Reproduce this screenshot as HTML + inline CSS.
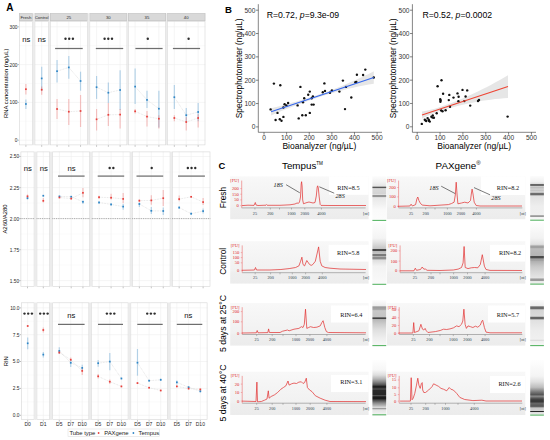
<!DOCTYPE html>
<html><head><meta charset="utf-8"><style>
html,body{margin:0;padding:0;background:#fff;}
body{width:550px;height:440px;overflow:hidden;font-family:"Liberation Sans", sans-serif;}
svg{display:block;}
</style></head><body>
<svg width="550" height="440" viewBox="0 0 550 440">
<rect x="32.8" y="21" width="1.8" height="124.2" fill="#ececec" />
<rect x="48.8" y="21" width="1.2" height="124.2" fill="#ececec" />
<rect x="87.6" y="21" width="1.9" height="124.2" fill="#ececec" />
<rect x="127.2" y="21" width="0.8" height="124.2" fill="#ececec" />
<rect x="166" y="21" width="1.2" height="124.2" fill="#ececec" />
<rect x="19" y="21" width="13.8" height="124.2" fill="#ffffff" />
<line x1="19" y1="121.3" x2="32.8" y2="121.3" stroke="#f6f6f6" stroke-width="0.5" />
<line x1="19" y1="83.5" x2="32.8" y2="83.5" stroke="#f6f6f6" stroke-width="0.5" />
<line x1="19" y1="45.7" x2="32.8" y2="45.7" stroke="#f6f6f6" stroke-width="0.5" />
<line x1="19" y1="140.2" x2="32.8" y2="140.2" stroke="#eeeeee" stroke-width="0.6" />
<line x1="19" y1="102.4" x2="32.8" y2="102.4" stroke="#eeeeee" stroke-width="0.6" />
<line x1="19" y1="64.6" x2="32.8" y2="64.6" stroke="#eeeeee" stroke-width="0.6" />
<line x1="19" y1="26.8" x2="32.8" y2="26.8" stroke="#eeeeee" stroke-width="0.6" />
<line x1="25.9" y1="21" x2="25.9" y2="145.2" stroke="#efefef" stroke-width="0.6" />
<rect x="19.3" y="21.3" width="13.2" height="123.6" fill="none" stroke="#d6d6d6" stroke-width="0.6"/>
<line x1="25.9" y1="145.2" x2="25.9" y2="146.8" stroke="#888" stroke-width="0.5" />
<rect x="34.6" y="21" width="14.2" height="124.2" fill="#ffffff" />
<line x1="34.6" y1="121.3" x2="48.8" y2="121.3" stroke="#f6f6f6" stroke-width="0.5" />
<line x1="34.6" y1="83.5" x2="48.8" y2="83.5" stroke="#f6f6f6" stroke-width="0.5" />
<line x1="34.6" y1="45.7" x2="48.8" y2="45.7" stroke="#f6f6f6" stroke-width="0.5" />
<line x1="34.6" y1="140.2" x2="48.8" y2="140.2" stroke="#eeeeee" stroke-width="0.6" />
<line x1="34.6" y1="102.4" x2="48.8" y2="102.4" stroke="#eeeeee" stroke-width="0.6" />
<line x1="34.6" y1="64.6" x2="48.8" y2="64.6" stroke="#eeeeee" stroke-width="0.6" />
<line x1="34.6" y1="26.8" x2="48.8" y2="26.8" stroke="#eeeeee" stroke-width="0.6" />
<line x1="41.7" y1="21" x2="41.7" y2="145.2" stroke="#efefef" stroke-width="0.6" />
<rect x="34.9" y="21.3" width="13.6" height="123.6" fill="none" stroke="#d6d6d6" stroke-width="0.6"/>
<line x1="41.7" y1="145.2" x2="41.7" y2="146.8" stroke="#888" stroke-width="0.5" />
<rect x="50" y="21" width="37.6" height="124.2" fill="#ffffff" />
<line x1="50" y1="121.3" x2="87.6" y2="121.3" stroke="#f6f6f6" stroke-width="0.5" />
<line x1="50" y1="83.5" x2="87.6" y2="83.5" stroke="#f6f6f6" stroke-width="0.5" />
<line x1="50" y1="45.7" x2="87.6" y2="45.7" stroke="#f6f6f6" stroke-width="0.5" />
<line x1="50" y1="140.2" x2="87.6" y2="140.2" stroke="#eeeeee" stroke-width="0.6" />
<line x1="50" y1="102.4" x2="87.6" y2="102.4" stroke="#eeeeee" stroke-width="0.6" />
<line x1="50" y1="64.6" x2="87.6" y2="64.6" stroke="#eeeeee" stroke-width="0.6" />
<line x1="50" y1="26.8" x2="87.6" y2="26.8" stroke="#eeeeee" stroke-width="0.6" />
<line x1="57.05" y1="21" x2="57.05" y2="145.2" stroke="#efefef" stroke-width="0.6" />
<line x1="68.8" y1="21" x2="68.8" y2="145.2" stroke="#efefef" stroke-width="0.6" />
<line x1="80.55" y1="21" x2="80.55" y2="145.2" stroke="#efefef" stroke-width="0.6" />
<rect x="50.3" y="21.3" width="37" height="123.6" fill="none" stroke="#d6d6d6" stroke-width="0.6"/>
<line x1="57.05" y1="145.2" x2="57.05" y2="146.8" stroke="#888" stroke-width="0.5" />
<line x1="68.8" y1="145.2" x2="68.8" y2="146.8" stroke="#888" stroke-width="0.5" />
<line x1="80.55" y1="145.2" x2="80.55" y2="146.8" stroke="#888" stroke-width="0.5" />
<rect x="89.5" y="21" width="37.7" height="124.2" fill="#ffffff" />
<line x1="89.5" y1="121.3" x2="127.2" y2="121.3" stroke="#f6f6f6" stroke-width="0.5" />
<line x1="89.5" y1="83.5" x2="127.2" y2="83.5" stroke="#f6f6f6" stroke-width="0.5" />
<line x1="89.5" y1="45.7" x2="127.2" y2="45.7" stroke="#f6f6f6" stroke-width="0.5" />
<line x1="89.5" y1="140.2" x2="127.2" y2="140.2" stroke="#eeeeee" stroke-width="0.6" />
<line x1="89.5" y1="102.4" x2="127.2" y2="102.4" stroke="#eeeeee" stroke-width="0.6" />
<line x1="89.5" y1="64.6" x2="127.2" y2="64.6" stroke="#eeeeee" stroke-width="0.6" />
<line x1="89.5" y1="26.8" x2="127.2" y2="26.8" stroke="#eeeeee" stroke-width="0.6" />
<line x1="96.57" y1="21" x2="96.57" y2="145.2" stroke="#efefef" stroke-width="0.6" />
<line x1="108.35" y1="21" x2="108.35" y2="145.2" stroke="#efefef" stroke-width="0.6" />
<line x1="120.13" y1="21" x2="120.13" y2="145.2" stroke="#efefef" stroke-width="0.6" />
<rect x="89.8" y="21.3" width="37.1" height="123.6" fill="none" stroke="#d6d6d6" stroke-width="0.6"/>
<line x1="96.57" y1="145.2" x2="96.57" y2="146.8" stroke="#888" stroke-width="0.5" />
<line x1="108.35" y1="145.2" x2="108.35" y2="146.8" stroke="#888" stroke-width="0.5" />
<line x1="120.13" y1="145.2" x2="120.13" y2="146.8" stroke="#888" stroke-width="0.5" />
<rect x="128" y="21" width="38" height="124.2" fill="#ffffff" />
<line x1="128" y1="121.3" x2="166" y2="121.3" stroke="#f6f6f6" stroke-width="0.5" />
<line x1="128" y1="83.5" x2="166" y2="83.5" stroke="#f6f6f6" stroke-width="0.5" />
<line x1="128" y1="45.7" x2="166" y2="45.7" stroke="#f6f6f6" stroke-width="0.5" />
<line x1="128" y1="140.2" x2="166" y2="140.2" stroke="#eeeeee" stroke-width="0.6" />
<line x1="128" y1="102.4" x2="166" y2="102.4" stroke="#eeeeee" stroke-width="0.6" />
<line x1="128" y1="64.6" x2="166" y2="64.6" stroke="#eeeeee" stroke-width="0.6" />
<line x1="128" y1="26.8" x2="166" y2="26.8" stroke="#eeeeee" stroke-width="0.6" />
<line x1="135.12" y1="21" x2="135.12" y2="145.2" stroke="#efefef" stroke-width="0.6" />
<line x1="147" y1="21" x2="147" y2="145.2" stroke="#efefef" stroke-width="0.6" />
<line x1="158.88" y1="21" x2="158.88" y2="145.2" stroke="#efefef" stroke-width="0.6" />
<rect x="128.3" y="21.3" width="37.4" height="123.6" fill="none" stroke="#d6d6d6" stroke-width="0.6"/>
<line x1="135.12" y1="145.2" x2="135.12" y2="146.8" stroke="#888" stroke-width="0.5" />
<line x1="147" y1="145.2" x2="147" y2="146.8" stroke="#888" stroke-width="0.5" />
<line x1="158.88" y1="145.2" x2="158.88" y2="146.8" stroke="#888" stroke-width="0.5" />
<rect x="167.2" y="21" width="38.1" height="124.2" fill="#ffffff" />
<line x1="167.2" y1="121.3" x2="205.3" y2="121.3" stroke="#f6f6f6" stroke-width="0.5" />
<line x1="167.2" y1="83.5" x2="205.3" y2="83.5" stroke="#f6f6f6" stroke-width="0.5" />
<line x1="167.2" y1="45.7" x2="205.3" y2="45.7" stroke="#f6f6f6" stroke-width="0.5" />
<line x1="167.2" y1="140.2" x2="205.3" y2="140.2" stroke="#eeeeee" stroke-width="0.6" />
<line x1="167.2" y1="102.4" x2="205.3" y2="102.4" stroke="#eeeeee" stroke-width="0.6" />
<line x1="167.2" y1="64.6" x2="205.3" y2="64.6" stroke="#eeeeee" stroke-width="0.6" />
<line x1="167.2" y1="26.8" x2="205.3" y2="26.8" stroke="#eeeeee" stroke-width="0.6" />
<line x1="174.34" y1="21" x2="174.34" y2="145.2" stroke="#efefef" stroke-width="0.6" />
<line x1="186.25" y1="21" x2="186.25" y2="145.2" stroke="#efefef" stroke-width="0.6" />
<line x1="198.16" y1="21" x2="198.16" y2="145.2" stroke="#efefef" stroke-width="0.6" />
<rect x="167.5" y="21.3" width="37.5" height="123.6" fill="none" stroke="#d6d6d6" stroke-width="0.6"/>
<line x1="174.34" y1="145.2" x2="174.34" y2="146.8" stroke="#888" stroke-width="0.5" />
<line x1="186.25" y1="145.2" x2="186.25" y2="146.8" stroke="#888" stroke-width="0.5" />
<line x1="198.16" y1="145.2" x2="198.16" y2="146.8" stroke="#888" stroke-width="0.5" />
<rect x="19" y="13.3" width="13.8" height="7.7" fill="#d9d9d9" />
<rect x="19.3" y="13.6" width="13.2" height="7.1" fill="none" stroke="#c4c4c4" stroke-width="0.6"/>
<text x="25.9" y="18.65" font-size="4.3" text-anchor="middle" fill="#2a2a2a" font-weight="normal" font-style="normal" font-family='"Liberation Sans", sans-serif' >Fresh</text>
<rect x="34.6" y="13.3" width="14.2" height="7.7" fill="#d9d9d9" />
<rect x="34.9" y="13.6" width="13.6" height="7.1" fill="none" stroke="#c4c4c4" stroke-width="0.6"/>
<text x="41.7" y="18.65" font-size="4.3" text-anchor="middle" fill="#2a2a2a" font-weight="normal" font-style="normal" font-family='"Liberation Sans", sans-serif' >Control</text>
<rect x="50" y="13.3" width="37.6" height="7.7" fill="#d9d9d9" />
<rect x="50.3" y="13.6" width="37" height="7.1" fill="none" stroke="#c4c4c4" stroke-width="0.6"/>
<text x="68.8" y="18.65" font-size="4.3" text-anchor="middle" fill="#2a2a2a" font-weight="normal" font-style="normal" font-family='"Liberation Sans", sans-serif' >25</text>
<rect x="89.5" y="13.3" width="37.7" height="7.7" fill="#d9d9d9" />
<rect x="89.8" y="13.6" width="37.1" height="7.1" fill="none" stroke="#c4c4c4" stroke-width="0.6"/>
<text x="108.35" y="18.65" font-size="4.3" text-anchor="middle" fill="#2a2a2a" font-weight="normal" font-style="normal" font-family='"Liberation Sans", sans-serif' >30</text>
<rect x="128" y="13.3" width="38" height="7.7" fill="#d9d9d9" />
<rect x="128.3" y="13.6" width="37.4" height="7.1" fill="none" stroke="#c4c4c4" stroke-width="0.6"/>
<text x="147" y="18.65" font-size="4.3" text-anchor="middle" fill="#2a2a2a" font-weight="normal" font-style="normal" font-family='"Liberation Sans", sans-serif' >35</text>
<rect x="167.2" y="13.3" width="38.1" height="7.7" fill="#d9d9d9" />
<rect x="167.5" y="13.6" width="37.5" height="7.1" fill="none" stroke="#c4c4c4" stroke-width="0.6"/>
<text x="186.25" y="18.65" font-size="4.3" text-anchor="middle" fill="#2a2a2a" font-weight="normal" font-style="normal" font-family='"Liberation Sans", sans-serif' >40</text>
<rect x="32.8" y="13.3" width="1.8" height="7.7" fill="#ececec" />
<rect x="48.8" y="13.3" width="1.2" height="7.7" fill="#ececec" />
<rect x="87.6" y="13.3" width="1.9" height="7.7" fill="#ececec" />
<rect x="127.2" y="13.3" width="0.8" height="7.7" fill="#ececec" />
<rect x="166" y="13.3" width="1.2" height="7.7" fill="#ececec" />
<line x1="17.7" y1="140.2" x2="19" y2="140.2" stroke="#777" stroke-width="0.5" />
<text x="17.5" y="142.1" font-size="4.8" text-anchor="end" fill="#262626" font-weight="normal" font-style="normal" font-family='"Liberation Sans", sans-serif' >0</text>
<line x1="17.7" y1="102.4" x2="19" y2="102.4" stroke="#777" stroke-width="0.5" />
<text x="17.5" y="104.3" font-size="4.8" text-anchor="end" fill="#262626" font-weight="normal" font-style="normal" font-family='"Liberation Sans", sans-serif' >100</text>
<line x1="17.7" y1="64.6" x2="19" y2="64.6" stroke="#777" stroke-width="0.5" />
<text x="17.5" y="66.5" font-size="4.8" text-anchor="end" fill="#262626" font-weight="normal" font-style="normal" font-family='"Liberation Sans", sans-serif' >200</text>
<line x1="17.7" y1="26.8" x2="19" y2="26.8" stroke="#777" stroke-width="0.5" />
<text x="17.5" y="28.7" font-size="4.8" text-anchor="end" fill="#262626" font-weight="normal" font-style="normal" font-family='"Liberation Sans", sans-serif' >300</text>
<line x1="25.9" y1="99.5" x2="25.9" y2="109" stroke="#2f86c6" stroke-opacity="0.34" stroke-width="1.2"/>
<line x1="25.9" y1="84.1" x2="25.9" y2="94.4" stroke="#e8403c" stroke-opacity="0.3" stroke-width="1.2"/>
<rect x="25.05" y="103.15" width="1.7" height="1.7" fill="#2f86c6" />
<rect x="25.05" y="88.35" width="1.7" height="1.7" fill="#e8403c" />
<text x="26.3" y="42" font-size="7.7" text-anchor="middle" fill="#111" font-weight="normal" font-style="normal" font-family='"Liberation Sans", sans-serif' >ns</text>
<line x1="41.7" y1="66.7" x2="41.7" y2="90.7" stroke="#2f86c6" stroke-opacity="0.34" stroke-width="1.2"/>
<line x1="41.7" y1="86.6" x2="41.7" y2="94.8" stroke="#e8403c" stroke-opacity="0.3" stroke-width="1.2"/>
<rect x="40.85" y="77.55" width="1.7" height="1.7" fill="#2f86c6" />
<rect x="40.85" y="88.85" width="1.7" height="1.7" fill="#e8403c" />
<text x="41.7" y="42" font-size="7.7" text-anchor="middle" fill="#111" font-weight="normal" font-style="normal" font-family='"Liberation Sans", sans-serif' >ns</text>
<polyline points="57.05,71.2 68.8,67.4 80.55,81" fill="none" stroke="#c8c8c8" stroke-width="0.5" stroke-dasharray="0.8 0.8"/>
<polyline points="57.05,109 68.8,111.7 80.55,111" fill="none" stroke="#c8c8c8" stroke-width="0.5" stroke-dasharray="0.8 0.8"/>
<line x1="57.05" y1="60" x2="57.05" y2="82.5" stroke="#2f86c6" stroke-opacity="0.34" stroke-width="1.2"/>
<line x1="57.05" y1="98.9" x2="57.05" y2="119" stroke="#e8403c" stroke-opacity="0.3" stroke-width="1.2"/>
<line x1="68.8" y1="56" x2="68.8" y2="78.8" stroke="#2f86c6" stroke-opacity="0.34" stroke-width="1.2"/>
<line x1="68.8" y1="98.9" x2="68.8" y2="125" stroke="#e8403c" stroke-opacity="0.3" stroke-width="1.2"/>
<line x1="80.55" y1="71.7" x2="80.55" y2="90.7" stroke="#2f86c6" stroke-opacity="0.34" stroke-width="1.2"/>
<line x1="80.55" y1="95" x2="80.55" y2="127" stroke="#e8403c" stroke-opacity="0.3" stroke-width="1.2"/>
<rect x="56.2" y="70.35" width="1.7" height="1.7" fill="#2f86c6" />
<rect x="56.2" y="108.15" width="1.7" height="1.7" fill="#e8403c" />
<rect x="67.95" y="66.55" width="1.7" height="1.7" fill="#2f86c6" />
<rect x="67.95" y="110.85" width="1.7" height="1.7" fill="#e8403c" />
<rect x="79.7" y="80.15" width="1.7" height="1.7" fill="#2f86c6" />
<rect x="79.7" y="110.15" width="1.7" height="1.7" fill="#e8403c" />
<circle cx="65.5" cy="38.8" r="1.2" fill="#2e2e2e"/>
<circle cx="69.2" cy="38.8" r="1.2" fill="#2e2e2e"/>
<circle cx="72.9" cy="38.8" r="1.2" fill="#2e2e2e"/>
<line x1="55.1" y1="48.5" x2="82.7" y2="48.5" stroke="#6e6e6e" stroke-width="1.25" />
<polyline points="96.57,87.2 108.35,92.7 120.13,90" fill="none" stroke="#c8c8c8" stroke-width="0.5" stroke-dasharray="0.8 0.8"/>
<polyline points="96.57,119.3 108.35,114.8 120.13,114.6" fill="none" stroke="#c8c8c8" stroke-width="0.5" stroke-dasharray="0.8 0.8"/>
<line x1="96.57" y1="76" x2="96.57" y2="98.9" stroke="#2f86c6" stroke-opacity="0.34" stroke-width="1.2"/>
<line x1="96.57" y1="109" x2="96.57" y2="130.5" stroke="#e8403c" stroke-opacity="0.3" stroke-width="1.2"/>
<line x1="108.35" y1="82.5" x2="108.35" y2="103" stroke="#2f86c6" stroke-opacity="0.34" stroke-width="1.2"/>
<line x1="108.35" y1="103" x2="108.35" y2="126" stroke="#e8403c" stroke-opacity="0.3" stroke-width="1.2"/>
<line x1="120.13" y1="70.2" x2="120.13" y2="110" stroke="#2f86c6" stroke-opacity="0.34" stroke-width="1.2"/>
<line x1="120.13" y1="109" x2="120.13" y2="128.5" stroke="#e8403c" stroke-opacity="0.3" stroke-width="1.2"/>
<rect x="95.72" y="86.35" width="1.7" height="1.7" fill="#2f86c6" />
<rect x="95.72" y="118.45" width="1.7" height="1.7" fill="#e8403c" />
<rect x="107.5" y="91.85" width="1.7" height="1.7" fill="#2f86c6" />
<rect x="107.5" y="113.95" width="1.7" height="1.7" fill="#e8403c" />
<rect x="119.28" y="89.15" width="1.7" height="1.7" fill="#2f86c6" />
<rect x="119.28" y="113.75" width="1.7" height="1.7" fill="#e8403c" />
<circle cx="104.6" cy="38.8" r="1.2" fill="#2e2e2e"/>
<circle cx="108.3" cy="38.8" r="1.2" fill="#2e2e2e"/>
<circle cx="112" cy="38.8" r="1.2" fill="#2e2e2e"/>
<line x1="95.8" y1="48.5" x2="123.2" y2="48.5" stroke="#6e6e6e" stroke-width="1.25" />
<polyline points="135.12,86.6 147,99.9 158.88,108.7" fill="none" stroke="#c8c8c8" stroke-width="0.5" stroke-dasharray="0.8 0.8"/>
<polyline points="135.12,111.3 147,116.6 158.88,118.7" fill="none" stroke="#c8c8c8" stroke-width="0.5" stroke-dasharray="0.8 0.8"/>
<line x1="135.12" y1="68.6" x2="135.12" y2="104" stroke="#2f86c6" stroke-opacity="0.34" stroke-width="1.2"/>
<line x1="135.12" y1="109" x2="135.12" y2="113.6" stroke="#e8403c" stroke-opacity="0.3" stroke-width="1.2"/>
<line x1="147" y1="90.7" x2="147" y2="108" stroke="#2f86c6" stroke-opacity="0.34" stroke-width="1.2"/>
<line x1="147" y1="111.1" x2="147" y2="126.5" stroke="#e8403c" stroke-opacity="0.3" stroke-width="1.2"/>
<line x1="158.88" y1="90.7" x2="158.88" y2="127.5" stroke="#2f86c6" stroke-opacity="0.34" stroke-width="1.2"/>
<line x1="158.88" y1="115.2" x2="158.88" y2="128.5" stroke="#e8403c" stroke-opacity="0.3" stroke-width="1.2"/>
<rect x="134.28" y="85.75" width="1.7" height="1.7" fill="#2f86c6" />
<rect x="134.28" y="110.45" width="1.7" height="1.7" fill="#e8403c" />
<rect x="146.15" y="99.05" width="1.7" height="1.7" fill="#2f86c6" />
<rect x="146.15" y="115.75" width="1.7" height="1.7" fill="#e8403c" />
<rect x="158.03" y="107.85" width="1.7" height="1.7" fill="#2f86c6" />
<rect x="158.03" y="117.85" width="1.7" height="1.7" fill="#e8403c" />
<circle cx="147.8" cy="38.8" r="1.2" fill="#2e2e2e"/>
<line x1="135.4" y1="48.5" x2="162.6" y2="48.5" stroke="#6e6e6e" stroke-width="1.25" />
<polyline points="174.34,97.2 186.25,115.2 198.16,112" fill="none" stroke="#c8c8c8" stroke-width="0.5" stroke-dasharray="0.8 0.8"/>
<polyline points="174.34,118 186.25,122 198.16,118" fill="none" stroke="#c8c8c8" stroke-width="0.5" stroke-dasharray="0.8 0.8"/>
<line x1="174.34" y1="85" x2="174.34" y2="109" stroke="#2f86c6" stroke-opacity="0.34" stroke-width="1.2"/>
<line x1="174.34" y1="115.2" x2="174.34" y2="121.3" stroke="#e8403c" stroke-opacity="0.3" stroke-width="1.2"/>
<line x1="186.25" y1="108" x2="186.25" y2="121.3" stroke="#2f86c6" stroke-opacity="0.34" stroke-width="1.2"/>
<line x1="186.25" y1="117.3" x2="186.25" y2="130.5" stroke="#e8403c" stroke-opacity="0.3" stroke-width="1.2"/>
<line x1="198.16" y1="103" x2="198.16" y2="121.3" stroke="#2f86c6" stroke-opacity="0.34" stroke-width="1.2"/>
<line x1="198.16" y1="114.2" x2="198.16" y2="127.5" stroke="#e8403c" stroke-opacity="0.3" stroke-width="1.2"/>
<rect x="173.49" y="96.35" width="1.7" height="1.7" fill="#2f86c6" />
<rect x="173.49" y="117.15" width="1.7" height="1.7" fill="#e8403c" />
<rect x="185.4" y="114.35" width="1.7" height="1.7" fill="#2f86c6" />
<rect x="185.4" y="121.15" width="1.7" height="1.7" fill="#e8403c" />
<rect x="197.31" y="111.15" width="1.7" height="1.7" fill="#2f86c6" />
<rect x="197.31" y="117.15" width="1.7" height="1.7" fill="#e8403c" />
<circle cx="188.6" cy="38.8" r="1.2" fill="#2e2e2e"/>
<line x1="172.9" y1="48.5" x2="200.1" y2="48.5" stroke="#6e6e6e" stroke-width="1.25" />
<text x="8" y="83.2" font-size="5.9" text-anchor="middle" fill="#000" font-weight="normal" font-style="normal" font-family='"Liberation Sans", sans-serif' transform="rotate(-90 8 83.2)" >RNA concentration (ng/µL)</text>
<rect x="34.4" y="151.6" width="2.2" height="135.1" fill="#ececec" />
<rect x="50" y="151.6" width="2.4" height="135.1" fill="#ececec" />
<rect x="90" y="151.6" width="1.8" height="135.1" fill="#ececec" />
<rect x="130.4" y="151.6" width="1.8" height="135.1" fill="#ececec" />
<rect x="170.4" y="151.6" width="1.6" height="135.1" fill="#ececec" />
<rect x="20.6" y="151.6" width="13.8" height="135.1" fill="#ffffff" />
<line x1="20.6" y1="265.1" x2="34.4" y2="265.1" stroke="#f6f6f6" stroke-width="0.5" />
<line x1="20.6" y1="234.1" x2="34.4" y2="234.1" stroke="#f6f6f6" stroke-width="0.5" />
<line x1="20.6" y1="203.1" x2="34.4" y2="203.1" stroke="#f6f6f6" stroke-width="0.5" />
<line x1="20.6" y1="172.1" x2="34.4" y2="172.1" stroke="#f6f6f6" stroke-width="0.5" />
<line x1="20.6" y1="280.6" x2="34.4" y2="280.6" stroke="#eeeeee" stroke-width="0.6" />
<line x1="20.6" y1="249.7" x2="34.4" y2="249.7" stroke="#eeeeee" stroke-width="0.6" />
<line x1="20.6" y1="218.6" x2="34.4" y2="218.6" stroke="#eeeeee" stroke-width="0.6" />
<line x1="20.6" y1="187.6" x2="34.4" y2="187.6" stroke="#eeeeee" stroke-width="0.6" />
<line x1="20.6" y1="156.5" x2="34.4" y2="156.5" stroke="#eeeeee" stroke-width="0.6" />
<line x1="27.5" y1="151.6" x2="27.5" y2="286.7" stroke="#efefef" stroke-width="0.6" />
<rect x="20.9" y="151.9" width="13.2" height="134.5" fill="none" stroke="#d6d6d6" stroke-width="0.6"/>
<line x1="27.5" y1="286.7" x2="27.5" y2="288.3" stroke="#888" stroke-width="0.5" />
<rect x="36.6" y="151.6" width="13.4" height="135.1" fill="#ffffff" />
<line x1="36.6" y1="265.1" x2="50" y2="265.1" stroke="#f6f6f6" stroke-width="0.5" />
<line x1="36.6" y1="234.1" x2="50" y2="234.1" stroke="#f6f6f6" stroke-width="0.5" />
<line x1="36.6" y1="203.1" x2="50" y2="203.1" stroke="#f6f6f6" stroke-width="0.5" />
<line x1="36.6" y1="172.1" x2="50" y2="172.1" stroke="#f6f6f6" stroke-width="0.5" />
<line x1="36.6" y1="280.6" x2="50" y2="280.6" stroke="#eeeeee" stroke-width="0.6" />
<line x1="36.6" y1="249.7" x2="50" y2="249.7" stroke="#eeeeee" stroke-width="0.6" />
<line x1="36.6" y1="218.6" x2="50" y2="218.6" stroke="#eeeeee" stroke-width="0.6" />
<line x1="36.6" y1="187.6" x2="50" y2="187.6" stroke="#eeeeee" stroke-width="0.6" />
<line x1="36.6" y1="156.5" x2="50" y2="156.5" stroke="#eeeeee" stroke-width="0.6" />
<line x1="43.3" y1="151.6" x2="43.3" y2="286.7" stroke="#efefef" stroke-width="0.6" />
<rect x="36.9" y="151.9" width="12.8" height="134.5" fill="none" stroke="#d6d6d6" stroke-width="0.6"/>
<line x1="43.3" y1="286.7" x2="43.3" y2="288.3" stroke="#888" stroke-width="0.5" />
<rect x="52.4" y="151.6" width="37.6" height="135.1" fill="#ffffff" />
<line x1="52.4" y1="265.1" x2="90" y2="265.1" stroke="#f6f6f6" stroke-width="0.5" />
<line x1="52.4" y1="234.1" x2="90" y2="234.1" stroke="#f6f6f6" stroke-width="0.5" />
<line x1="52.4" y1="203.1" x2="90" y2="203.1" stroke="#f6f6f6" stroke-width="0.5" />
<line x1="52.4" y1="172.1" x2="90" y2="172.1" stroke="#f6f6f6" stroke-width="0.5" />
<line x1="52.4" y1="280.6" x2="90" y2="280.6" stroke="#eeeeee" stroke-width="0.6" />
<line x1="52.4" y1="249.7" x2="90" y2="249.7" stroke="#eeeeee" stroke-width="0.6" />
<line x1="52.4" y1="218.6" x2="90" y2="218.6" stroke="#eeeeee" stroke-width="0.6" />
<line x1="52.4" y1="187.6" x2="90" y2="187.6" stroke="#eeeeee" stroke-width="0.6" />
<line x1="52.4" y1="156.5" x2="90" y2="156.5" stroke="#eeeeee" stroke-width="0.6" />
<line x1="59.45" y1="151.6" x2="59.45" y2="286.7" stroke="#efefef" stroke-width="0.6" />
<line x1="71.2" y1="151.6" x2="71.2" y2="286.7" stroke="#efefef" stroke-width="0.6" />
<line x1="82.95" y1="151.6" x2="82.95" y2="286.7" stroke="#efefef" stroke-width="0.6" />
<rect x="52.7" y="151.9" width="37" height="134.5" fill="none" stroke="#d6d6d6" stroke-width="0.6"/>
<line x1="59.45" y1="286.7" x2="59.45" y2="288.3" stroke="#888" stroke-width="0.5" />
<line x1="71.2" y1="286.7" x2="71.2" y2="288.3" stroke="#888" stroke-width="0.5" />
<line x1="82.95" y1="286.7" x2="82.95" y2="288.3" stroke="#888" stroke-width="0.5" />
<rect x="91.8" y="151.6" width="38.6" height="135.1" fill="#ffffff" />
<line x1="91.8" y1="265.1" x2="130.4" y2="265.1" stroke="#f6f6f6" stroke-width="0.5" />
<line x1="91.8" y1="234.1" x2="130.4" y2="234.1" stroke="#f6f6f6" stroke-width="0.5" />
<line x1="91.8" y1="203.1" x2="130.4" y2="203.1" stroke="#f6f6f6" stroke-width="0.5" />
<line x1="91.8" y1="172.1" x2="130.4" y2="172.1" stroke="#f6f6f6" stroke-width="0.5" />
<line x1="91.8" y1="280.6" x2="130.4" y2="280.6" stroke="#eeeeee" stroke-width="0.6" />
<line x1="91.8" y1="249.7" x2="130.4" y2="249.7" stroke="#eeeeee" stroke-width="0.6" />
<line x1="91.8" y1="218.6" x2="130.4" y2="218.6" stroke="#eeeeee" stroke-width="0.6" />
<line x1="91.8" y1="187.6" x2="130.4" y2="187.6" stroke="#eeeeee" stroke-width="0.6" />
<line x1="91.8" y1="156.5" x2="130.4" y2="156.5" stroke="#eeeeee" stroke-width="0.6" />
<line x1="99.04" y1="151.6" x2="99.04" y2="286.7" stroke="#efefef" stroke-width="0.6" />
<line x1="111.1" y1="151.6" x2="111.1" y2="286.7" stroke="#efefef" stroke-width="0.6" />
<line x1="123.16" y1="151.6" x2="123.16" y2="286.7" stroke="#efefef" stroke-width="0.6" />
<rect x="92.1" y="151.9" width="38" height="134.5" fill="none" stroke="#d6d6d6" stroke-width="0.6"/>
<line x1="99.04" y1="286.7" x2="99.04" y2="288.3" stroke="#888" stroke-width="0.5" />
<line x1="111.1" y1="286.7" x2="111.1" y2="288.3" stroke="#888" stroke-width="0.5" />
<line x1="123.16" y1="286.7" x2="123.16" y2="288.3" stroke="#888" stroke-width="0.5" />
<rect x="132.2" y="151.6" width="38.2" height="135.1" fill="#ffffff" />
<line x1="132.2" y1="265.1" x2="170.4" y2="265.1" stroke="#f6f6f6" stroke-width="0.5" />
<line x1="132.2" y1="234.1" x2="170.4" y2="234.1" stroke="#f6f6f6" stroke-width="0.5" />
<line x1="132.2" y1="203.1" x2="170.4" y2="203.1" stroke="#f6f6f6" stroke-width="0.5" />
<line x1="132.2" y1="172.1" x2="170.4" y2="172.1" stroke="#f6f6f6" stroke-width="0.5" />
<line x1="132.2" y1="280.6" x2="170.4" y2="280.6" stroke="#eeeeee" stroke-width="0.6" />
<line x1="132.2" y1="249.7" x2="170.4" y2="249.7" stroke="#eeeeee" stroke-width="0.6" />
<line x1="132.2" y1="218.6" x2="170.4" y2="218.6" stroke="#eeeeee" stroke-width="0.6" />
<line x1="132.2" y1="187.6" x2="170.4" y2="187.6" stroke="#eeeeee" stroke-width="0.6" />
<line x1="132.2" y1="156.5" x2="170.4" y2="156.5" stroke="#eeeeee" stroke-width="0.6" />
<line x1="139.36" y1="151.6" x2="139.36" y2="286.7" stroke="#efefef" stroke-width="0.6" />
<line x1="151.3" y1="151.6" x2="151.3" y2="286.7" stroke="#efefef" stroke-width="0.6" />
<line x1="163.24" y1="151.6" x2="163.24" y2="286.7" stroke="#efefef" stroke-width="0.6" />
<rect x="132.5" y="151.9" width="37.6" height="134.5" fill="none" stroke="#d6d6d6" stroke-width="0.6"/>
<line x1="139.36" y1="286.7" x2="139.36" y2="288.3" stroke="#888" stroke-width="0.5" />
<line x1="151.3" y1="286.7" x2="151.3" y2="288.3" stroke="#888" stroke-width="0.5" />
<line x1="163.24" y1="286.7" x2="163.24" y2="288.3" stroke="#888" stroke-width="0.5" />
<rect x="172" y="151.6" width="38.3" height="135.1" fill="#ffffff" />
<line x1="172" y1="265.1" x2="210.3" y2="265.1" stroke="#f6f6f6" stroke-width="0.5" />
<line x1="172" y1="234.1" x2="210.3" y2="234.1" stroke="#f6f6f6" stroke-width="0.5" />
<line x1="172" y1="203.1" x2="210.3" y2="203.1" stroke="#f6f6f6" stroke-width="0.5" />
<line x1="172" y1="172.1" x2="210.3" y2="172.1" stroke="#f6f6f6" stroke-width="0.5" />
<line x1="172" y1="280.6" x2="210.3" y2="280.6" stroke="#eeeeee" stroke-width="0.6" />
<line x1="172" y1="249.7" x2="210.3" y2="249.7" stroke="#eeeeee" stroke-width="0.6" />
<line x1="172" y1="218.6" x2="210.3" y2="218.6" stroke="#eeeeee" stroke-width="0.6" />
<line x1="172" y1="187.6" x2="210.3" y2="187.6" stroke="#eeeeee" stroke-width="0.6" />
<line x1="172" y1="156.5" x2="210.3" y2="156.5" stroke="#eeeeee" stroke-width="0.6" />
<line x1="179.18" y1="151.6" x2="179.18" y2="286.7" stroke="#efefef" stroke-width="0.6" />
<line x1="191.15" y1="151.6" x2="191.15" y2="286.7" stroke="#efefef" stroke-width="0.6" />
<line x1="203.12" y1="151.6" x2="203.12" y2="286.7" stroke="#efefef" stroke-width="0.6" />
<rect x="172.3" y="151.9" width="37.7" height="134.5" fill="none" stroke="#d6d6d6" stroke-width="0.6"/>
<line x1="179.18" y1="286.7" x2="179.18" y2="288.3" stroke="#888" stroke-width="0.5" />
<line x1="191.15" y1="286.7" x2="191.15" y2="288.3" stroke="#888" stroke-width="0.5" />
<line x1="203.12" y1="286.7" x2="203.12" y2="288.3" stroke="#888" stroke-width="0.5" />
<line x1="20.6" y1="218.6" x2="34.4" y2="218.6" stroke="#9a9a9a" stroke-width="0.9" stroke-dasharray="0.9 0.9"/>
<line x1="36.6" y1="218.6" x2="50" y2="218.6" stroke="#9a9a9a" stroke-width="0.9" stroke-dasharray="0.9 0.9"/>
<line x1="52.4" y1="218.6" x2="90" y2="218.6" stroke="#9a9a9a" stroke-width="0.9" stroke-dasharray="0.9 0.9"/>
<line x1="91.8" y1="218.6" x2="130.4" y2="218.6" stroke="#9a9a9a" stroke-width="0.9" stroke-dasharray="0.9 0.9"/>
<line x1="132.2" y1="218.6" x2="170.4" y2="218.6" stroke="#9a9a9a" stroke-width="0.9" stroke-dasharray="0.9 0.9"/>
<line x1="172" y1="218.6" x2="210.3" y2="218.6" stroke="#9a9a9a" stroke-width="0.9" stroke-dasharray="0.9 0.9"/>
<line x1="19.3" y1="280.6" x2="20.6" y2="280.6" stroke="#777" stroke-width="0.5" />
<text x="19.1" y="282.5" font-size="4.8" text-anchor="end" fill="#262626" font-weight="normal" font-style="normal" font-family='"Liberation Sans", sans-serif' >1.50</text>
<line x1="19.3" y1="249.7" x2="20.6" y2="249.7" stroke="#777" stroke-width="0.5" />
<text x="19.1" y="251.6" font-size="4.8" text-anchor="end" fill="#262626" font-weight="normal" font-style="normal" font-family='"Liberation Sans", sans-serif' >1.75</text>
<line x1="19.3" y1="218.6" x2="20.6" y2="218.6" stroke="#777" stroke-width="0.5" />
<text x="19.1" y="220.5" font-size="4.8" text-anchor="end" fill="#262626" font-weight="normal" font-style="normal" font-family='"Liberation Sans", sans-serif' >2.00</text>
<line x1="19.3" y1="187.6" x2="20.6" y2="187.6" stroke="#777" stroke-width="0.5" />
<text x="19.1" y="189.5" font-size="4.8" text-anchor="end" fill="#262626" font-weight="normal" font-style="normal" font-family='"Liberation Sans", sans-serif' >2.25</text>
<line x1="19.3" y1="156.5" x2="20.6" y2="156.5" stroke="#777" stroke-width="0.5" />
<text x="19.1" y="158.4" font-size="4.8" text-anchor="end" fill="#262626" font-weight="normal" font-style="normal" font-family='"Liberation Sans", sans-serif' >2.50</text>
<line x1="27.5" y1="197" x2="27.5" y2="199.5" stroke="#2f86c6" stroke-opacity="0.34" stroke-width="1.2"/>
<line x1="27.5" y1="194.5" x2="27.5" y2="198.2" stroke="#e8403c" stroke-opacity="0.3" stroke-width="1.2"/>
<rect x="26.65" y="197.35" width="1.7" height="1.7" fill="#2f86c6" />
<rect x="26.65" y="195.45" width="1.7" height="1.7" fill="#e8403c" />
<text x="27.9" y="171.1" font-size="7.7" text-anchor="middle" fill="#111" font-weight="normal" font-style="normal" font-family='"Liberation Sans", sans-serif' >ns</text>
<line x1="43.3" y1="195" x2="43.3" y2="196.5" stroke="#2f86c6" stroke-opacity="0.34" stroke-width="1.2"/>
<line x1="43.3" y1="198" x2="43.3" y2="202.5" stroke="#e8403c" stroke-opacity="0.3" stroke-width="1.2"/>
<rect x="42.45" y="194.85" width="1.7" height="1.7" fill="#2f86c6" />
<rect x="42.45" y="199.95" width="1.7" height="1.7" fill="#e8403c" />
<text x="43.7" y="171.1" font-size="7.7" text-anchor="middle" fill="#111" font-weight="normal" font-style="normal" font-family='"Liberation Sans", sans-serif' >ns</text>
<polyline points="59.45,196.4 71.2,196.7 82.95,201.8" fill="none" stroke="#c8c8c8" stroke-width="0.5" stroke-dasharray="0.8 0.8"/>
<polyline points="59.45,197.5 71.2,198.6 82.95,192.8" fill="none" stroke="#c8c8c8" stroke-width="0.5" stroke-dasharray="0.8 0.8"/>
<line x1="59.45" y1="195.6" x2="59.45" y2="197.2" stroke="#2f86c6" stroke-opacity="0.34" stroke-width="1.2"/>
<line x1="59.45" y1="196.8" x2="59.45" y2="198.2" stroke="#e8403c" stroke-opacity="0.3" stroke-width="1.2"/>
<line x1="71.2" y1="196" x2="71.2" y2="197.4" stroke="#2f86c6" stroke-opacity="0.34" stroke-width="1.2"/>
<line x1="71.2" y1="197.6" x2="71.2" y2="199.6" stroke="#e8403c" stroke-opacity="0.3" stroke-width="1.2"/>
<line x1="82.95" y1="200.4" x2="82.95" y2="204" stroke="#2f86c6" stroke-opacity="0.34" stroke-width="1.2"/>
<line x1="82.95" y1="188" x2="82.95" y2="197.2" stroke="#e8403c" stroke-opacity="0.3" stroke-width="1.2"/>
<rect x="58.6" y="195.55" width="1.7" height="1.7" fill="#2f86c6" />
<rect x="58.6" y="196.65" width="1.7" height="1.7" fill="#e8403c" />
<rect x="70.35" y="195.85" width="1.7" height="1.7" fill="#2f86c6" />
<rect x="70.35" y="197.75" width="1.7" height="1.7" fill="#e8403c" />
<rect x="82.1" y="200.95" width="1.7" height="1.7" fill="#2f86c6" />
<rect x="82.1" y="191.95" width="1.7" height="1.7" fill="#e8403c" />
<text x="71.6" y="171.1" font-size="7.7" text-anchor="middle" fill="#111" font-weight="normal" font-style="normal" font-family='"Liberation Sans", sans-serif' >ns</text>
<line x1="58" y1="176.1" x2="84.6" y2="176.1" stroke="#6e6e6e" stroke-width="1.25" />
<polyline points="99.04,202.5 111.1,204.4 123.16,206.6" fill="none" stroke="#c8c8c8" stroke-width="0.5" stroke-dasharray="0.8 0.8"/>
<polyline points="99.04,197.2 111.1,197.7 123.16,198.9" fill="none" stroke="#c8c8c8" stroke-width="0.5" stroke-dasharray="0.8 0.8"/>
<line x1="99.04" y1="201.1" x2="99.04" y2="204" stroke="#2f86c6" stroke-opacity="0.34" stroke-width="1.2"/>
<line x1="99.04" y1="195.7" x2="99.04" y2="198.9" stroke="#e8403c" stroke-opacity="0.3" stroke-width="1.2"/>
<line x1="111.1" y1="203.3" x2="111.1" y2="205.9" stroke="#2f86c6" stroke-opacity="0.34" stroke-width="1.2"/>
<line x1="111.1" y1="193.8" x2="111.1" y2="199.6" stroke="#e8403c" stroke-opacity="0.3" stroke-width="1.2"/>
<line x1="123.16" y1="204" x2="123.16" y2="209.8" stroke="#2f86c6" stroke-opacity="0.34" stroke-width="1.2"/>
<line x1="123.16" y1="193" x2="123.16" y2="203.3" stroke="#e8403c" stroke-opacity="0.3" stroke-width="1.2"/>
<rect x="98.19" y="201.65" width="1.7" height="1.7" fill="#2f86c6" />
<rect x="98.19" y="196.35" width="1.7" height="1.7" fill="#e8403c" />
<rect x="110.25" y="203.55" width="1.7" height="1.7" fill="#2f86c6" />
<rect x="110.25" y="196.85" width="1.7" height="1.7" fill="#e8403c" />
<rect x="122.31" y="205.75" width="1.7" height="1.7" fill="#2f86c6" />
<rect x="122.31" y="198.05" width="1.7" height="1.7" fill="#e8403c" />
<circle cx="109.65" cy="168" r="1.2" fill="#2e2e2e"/>
<circle cx="113.35" cy="168" r="1.2" fill="#2e2e2e"/>
<line x1="97.7" y1="176.1" x2="124.2" y2="176.1" stroke="#6e6e6e" stroke-width="1.25" />
<polyline points="139.36,204 151.3,210.8 163.24,211" fill="none" stroke="#c8c8c8" stroke-width="0.5" stroke-dasharray="0.8 0.8"/>
<polyline points="139.36,200.7 151.3,200.4 163.24,198.2" fill="none" stroke="#c8c8c8" stroke-width="0.5" stroke-dasharray="0.8 0.8"/>
<line x1="139.36" y1="202.5" x2="139.36" y2="206.9" stroke="#2f86c6" stroke-opacity="0.34" stroke-width="1.2"/>
<line x1="139.36" y1="199.2" x2="139.36" y2="201.8" stroke="#e8403c" stroke-opacity="0.3" stroke-width="1.2"/>
<line x1="151.3" y1="207" x2="151.3" y2="214" stroke="#2f86c6" stroke-opacity="0.34" stroke-width="1.2"/>
<line x1="151.3" y1="195.3" x2="151.3" y2="204.7" stroke="#e8403c" stroke-opacity="0.3" stroke-width="1.2"/>
<line x1="163.24" y1="207.6" x2="163.24" y2="214.9" stroke="#2f86c6" stroke-opacity="0.34" stroke-width="1.2"/>
<line x1="163.24" y1="190" x2="163.24" y2="206" stroke="#e8403c" stroke-opacity="0.3" stroke-width="1.2"/>
<rect x="138.51" y="203.15" width="1.7" height="1.7" fill="#2f86c6" />
<rect x="138.51" y="199.85" width="1.7" height="1.7" fill="#e8403c" />
<rect x="150.45" y="209.95" width="1.7" height="1.7" fill="#2f86c6" />
<rect x="150.45" y="199.55" width="1.7" height="1.7" fill="#e8403c" />
<rect x="162.39" y="210.15" width="1.7" height="1.7" fill="#2f86c6" />
<rect x="162.39" y="197.35" width="1.7" height="1.7" fill="#e8403c" />
<circle cx="151.7" cy="168" r="1.2" fill="#2e2e2e"/>
<line x1="136.5" y1="176.1" x2="163.2" y2="176.1" stroke="#6e6e6e" stroke-width="1.25" />
<polyline points="179.18,207.6 191.15,213.7 203.12,211.1" fill="none" stroke="#c8c8c8" stroke-width="0.5" stroke-dasharray="0.8 0.8"/>
<polyline points="179.18,199.1 191.15,196.8 203.12,202.1" fill="none" stroke="#c8c8c8" stroke-width="0.5" stroke-dasharray="0.8 0.8"/>
<line x1="179.18" y1="206" x2="179.18" y2="209" stroke="#2f86c6" stroke-opacity="0.34" stroke-width="1.2"/>
<line x1="179.18" y1="195.6" x2="179.18" y2="201.2" stroke="#e8403c" stroke-opacity="0.3" stroke-width="1.2"/>
<line x1="191.15" y1="212.5" x2="191.15" y2="215" stroke="#2f86c6" stroke-opacity="0.34" stroke-width="1.2"/>
<line x1="191.15" y1="196" x2="191.15" y2="197.5" stroke="#e8403c" stroke-opacity="0.3" stroke-width="1.2"/>
<line x1="203.12" y1="208.5" x2="203.12" y2="213.5" stroke="#2f86c6" stroke-opacity="0.34" stroke-width="1.2"/>
<line x1="203.12" y1="198" x2="203.12" y2="205" stroke="#e8403c" stroke-opacity="0.3" stroke-width="1.2"/>
<rect x="178.33" y="206.75" width="1.7" height="1.7" fill="#2f86c6" />
<rect x="178.33" y="198.25" width="1.7" height="1.7" fill="#e8403c" />
<rect x="190.3" y="212.85" width="1.7" height="1.7" fill="#2f86c6" />
<rect x="190.3" y="195.95" width="1.7" height="1.7" fill="#e8403c" />
<rect x="202.27" y="210.25" width="1.7" height="1.7" fill="#2f86c6" />
<rect x="202.27" y="201.25" width="1.7" height="1.7" fill="#e8403c" />
<circle cx="187.85" cy="168" r="1.2" fill="#2e2e2e"/>
<circle cx="191.55" cy="168" r="1.2" fill="#2e2e2e"/>
<circle cx="195.25" cy="168" r="1.2" fill="#2e2e2e"/>
<line x1="178" y1="176.1" x2="204.9" y2="176.1" stroke="#6e6e6e" stroke-width="1.25" />
<text x="7.2" y="219" font-size="5.9" text-anchor="middle" fill="#000" font-weight="normal" font-style="normal" font-family='"Liberation Sans", sans-serif' transform="rotate(-90 7.2 219)" >A260/A280</text>
<rect x="34.4" y="302.5" width="2.2" height="117.5" fill="#ececec" />
<rect x="50" y="302.5" width="2.4" height="117.5" fill="#ececec" />
<rect x="89.1" y="302.5" width="2.1" height="117.5" fill="#ececec" />
<rect x="128.4" y="302.5" width="2.1" height="117.5" fill="#ececec" />
<rect x="167.7" y="302.5" width="2.1" height="117.5" fill="#ececec" />
<rect x="21" y="302.5" width="13.4" height="117.5" fill="#ffffff" />
<line x1="21" y1="401.9" x2="34.4" y2="401.9" stroke="#f6f6f6" stroke-width="0.5" />
<line x1="21" y1="375" x2="34.4" y2="375" stroke="#f6f6f6" stroke-width="0.5" />
<line x1="21" y1="348.1" x2="34.4" y2="348.1" stroke="#f6f6f6" stroke-width="0.5" />
<line x1="21" y1="321.3" x2="34.4" y2="321.3" stroke="#f6f6f6" stroke-width="0.5" />
<line x1="21" y1="415.3" x2="34.4" y2="415.3" stroke="#eeeeee" stroke-width="0.6" />
<line x1="21" y1="388.4" x2="34.4" y2="388.4" stroke="#eeeeee" stroke-width="0.6" />
<line x1="21" y1="361.5" x2="34.4" y2="361.5" stroke="#eeeeee" stroke-width="0.6" />
<line x1="21" y1="334.7" x2="34.4" y2="334.7" stroke="#eeeeee" stroke-width="0.6" />
<line x1="21" y1="307.9" x2="34.4" y2="307.9" stroke="#eeeeee" stroke-width="0.6" />
<line x1="27.7" y1="302.5" x2="27.7" y2="420" stroke="#efefef" stroke-width="0.6" />
<rect x="21.3" y="302.8" width="12.8" height="116.9" fill="none" stroke="#d6d6d6" stroke-width="0.6"/>
<line x1="27.7" y1="420" x2="27.7" y2="421.6" stroke="#888" stroke-width="0.5" />
<rect x="36.6" y="302.5" width="13.4" height="117.5" fill="#ffffff" />
<line x1="36.6" y1="401.9" x2="50" y2="401.9" stroke="#f6f6f6" stroke-width="0.5" />
<line x1="36.6" y1="375" x2="50" y2="375" stroke="#f6f6f6" stroke-width="0.5" />
<line x1="36.6" y1="348.1" x2="50" y2="348.1" stroke="#f6f6f6" stroke-width="0.5" />
<line x1="36.6" y1="321.3" x2="50" y2="321.3" stroke="#f6f6f6" stroke-width="0.5" />
<line x1="36.6" y1="415.3" x2="50" y2="415.3" stroke="#eeeeee" stroke-width="0.6" />
<line x1="36.6" y1="388.4" x2="50" y2="388.4" stroke="#eeeeee" stroke-width="0.6" />
<line x1="36.6" y1="361.5" x2="50" y2="361.5" stroke="#eeeeee" stroke-width="0.6" />
<line x1="36.6" y1="334.7" x2="50" y2="334.7" stroke="#eeeeee" stroke-width="0.6" />
<line x1="36.6" y1="307.9" x2="50" y2="307.9" stroke="#eeeeee" stroke-width="0.6" />
<line x1="43.3" y1="302.5" x2="43.3" y2="420" stroke="#efefef" stroke-width="0.6" />
<rect x="36.9" y="302.8" width="12.8" height="116.9" fill="none" stroke="#d6d6d6" stroke-width="0.6"/>
<line x1="43.3" y1="420" x2="43.3" y2="421.6" stroke="#888" stroke-width="0.5" />
<rect x="52.4" y="302.5" width="36.7" height="117.5" fill="#ffffff" />
<line x1="52.4" y1="401.9" x2="89.1" y2="401.9" stroke="#f6f6f6" stroke-width="0.5" />
<line x1="52.4" y1="375" x2="89.1" y2="375" stroke="#f6f6f6" stroke-width="0.5" />
<line x1="52.4" y1="348.1" x2="89.1" y2="348.1" stroke="#f6f6f6" stroke-width="0.5" />
<line x1="52.4" y1="321.3" x2="89.1" y2="321.3" stroke="#f6f6f6" stroke-width="0.5" />
<line x1="52.4" y1="415.3" x2="89.1" y2="415.3" stroke="#eeeeee" stroke-width="0.6" />
<line x1="52.4" y1="388.4" x2="89.1" y2="388.4" stroke="#eeeeee" stroke-width="0.6" />
<line x1="52.4" y1="361.5" x2="89.1" y2="361.5" stroke="#eeeeee" stroke-width="0.6" />
<line x1="52.4" y1="334.7" x2="89.1" y2="334.7" stroke="#eeeeee" stroke-width="0.6" />
<line x1="52.4" y1="307.9" x2="89.1" y2="307.9" stroke="#eeeeee" stroke-width="0.6" />
<line x1="59.28" y1="302.5" x2="59.28" y2="420" stroke="#efefef" stroke-width="0.6" />
<line x1="70.75" y1="302.5" x2="70.75" y2="420" stroke="#efefef" stroke-width="0.6" />
<line x1="82.22" y1="302.5" x2="82.22" y2="420" stroke="#efefef" stroke-width="0.6" />
<rect x="52.7" y="302.8" width="36.1" height="116.9" fill="none" stroke="#d6d6d6" stroke-width="0.6"/>
<line x1="59.28" y1="420" x2="59.28" y2="421.6" stroke="#888" stroke-width="0.5" />
<line x1="70.75" y1="420" x2="70.75" y2="421.6" stroke="#888" stroke-width="0.5" />
<line x1="82.22" y1="420" x2="82.22" y2="421.6" stroke="#888" stroke-width="0.5" />
<rect x="91.2" y="302.5" width="37.2" height="117.5" fill="#ffffff" />
<line x1="91.2" y1="401.9" x2="128.4" y2="401.9" stroke="#f6f6f6" stroke-width="0.5" />
<line x1="91.2" y1="375" x2="128.4" y2="375" stroke="#f6f6f6" stroke-width="0.5" />
<line x1="91.2" y1="348.1" x2="128.4" y2="348.1" stroke="#f6f6f6" stroke-width="0.5" />
<line x1="91.2" y1="321.3" x2="128.4" y2="321.3" stroke="#f6f6f6" stroke-width="0.5" />
<line x1="91.2" y1="415.3" x2="128.4" y2="415.3" stroke="#eeeeee" stroke-width="0.6" />
<line x1="91.2" y1="388.4" x2="128.4" y2="388.4" stroke="#eeeeee" stroke-width="0.6" />
<line x1="91.2" y1="361.5" x2="128.4" y2="361.5" stroke="#eeeeee" stroke-width="0.6" />
<line x1="91.2" y1="334.7" x2="128.4" y2="334.7" stroke="#eeeeee" stroke-width="0.6" />
<line x1="91.2" y1="307.9" x2="128.4" y2="307.9" stroke="#eeeeee" stroke-width="0.6" />
<line x1="98.17" y1="302.5" x2="98.17" y2="420" stroke="#efefef" stroke-width="0.6" />
<line x1="109.8" y1="302.5" x2="109.8" y2="420" stroke="#efefef" stroke-width="0.6" />
<line x1="121.43" y1="302.5" x2="121.43" y2="420" stroke="#efefef" stroke-width="0.6" />
<rect x="91.5" y="302.8" width="36.6" height="116.9" fill="none" stroke="#d6d6d6" stroke-width="0.6"/>
<line x1="98.17" y1="420" x2="98.17" y2="421.6" stroke="#888" stroke-width="0.5" />
<line x1="109.8" y1="420" x2="109.8" y2="421.6" stroke="#888" stroke-width="0.5" />
<line x1="121.43" y1="420" x2="121.43" y2="421.6" stroke="#888" stroke-width="0.5" />
<rect x="130.5" y="302.5" width="37.2" height="117.5" fill="#ffffff" />
<line x1="130.5" y1="401.9" x2="167.7" y2="401.9" stroke="#f6f6f6" stroke-width="0.5" />
<line x1="130.5" y1="375" x2="167.7" y2="375" stroke="#f6f6f6" stroke-width="0.5" />
<line x1="130.5" y1="348.1" x2="167.7" y2="348.1" stroke="#f6f6f6" stroke-width="0.5" />
<line x1="130.5" y1="321.3" x2="167.7" y2="321.3" stroke="#f6f6f6" stroke-width="0.5" />
<line x1="130.5" y1="415.3" x2="167.7" y2="415.3" stroke="#eeeeee" stroke-width="0.6" />
<line x1="130.5" y1="388.4" x2="167.7" y2="388.4" stroke="#eeeeee" stroke-width="0.6" />
<line x1="130.5" y1="361.5" x2="167.7" y2="361.5" stroke="#eeeeee" stroke-width="0.6" />
<line x1="130.5" y1="334.7" x2="167.7" y2="334.7" stroke="#eeeeee" stroke-width="0.6" />
<line x1="130.5" y1="307.9" x2="167.7" y2="307.9" stroke="#eeeeee" stroke-width="0.6" />
<line x1="137.47" y1="302.5" x2="137.47" y2="420" stroke="#efefef" stroke-width="0.6" />
<line x1="149.1" y1="302.5" x2="149.1" y2="420" stroke="#efefef" stroke-width="0.6" />
<line x1="160.72" y1="302.5" x2="160.72" y2="420" stroke="#efefef" stroke-width="0.6" />
<rect x="130.8" y="302.8" width="36.6" height="116.9" fill="none" stroke="#d6d6d6" stroke-width="0.6"/>
<line x1="137.47" y1="420" x2="137.47" y2="421.6" stroke="#888" stroke-width="0.5" />
<line x1="149.1" y1="420" x2="149.1" y2="421.6" stroke="#888" stroke-width="0.5" />
<line x1="160.72" y1="420" x2="160.72" y2="421.6" stroke="#888" stroke-width="0.5" />
<rect x="169.8" y="302.5" width="37.6" height="117.5" fill="#ffffff" />
<line x1="169.8" y1="401.9" x2="207.4" y2="401.9" stroke="#f6f6f6" stroke-width="0.5" />
<line x1="169.8" y1="375" x2="207.4" y2="375" stroke="#f6f6f6" stroke-width="0.5" />
<line x1="169.8" y1="348.1" x2="207.4" y2="348.1" stroke="#f6f6f6" stroke-width="0.5" />
<line x1="169.8" y1="321.3" x2="207.4" y2="321.3" stroke="#f6f6f6" stroke-width="0.5" />
<line x1="169.8" y1="415.3" x2="207.4" y2="415.3" stroke="#eeeeee" stroke-width="0.6" />
<line x1="169.8" y1="388.4" x2="207.4" y2="388.4" stroke="#eeeeee" stroke-width="0.6" />
<line x1="169.8" y1="361.5" x2="207.4" y2="361.5" stroke="#eeeeee" stroke-width="0.6" />
<line x1="169.8" y1="334.7" x2="207.4" y2="334.7" stroke="#eeeeee" stroke-width="0.6" />
<line x1="169.8" y1="307.9" x2="207.4" y2="307.9" stroke="#eeeeee" stroke-width="0.6" />
<line x1="176.85" y1="302.5" x2="176.85" y2="420" stroke="#efefef" stroke-width="0.6" />
<line x1="188.6" y1="302.5" x2="188.6" y2="420" stroke="#efefef" stroke-width="0.6" />
<line x1="200.35" y1="302.5" x2="200.35" y2="420" stroke="#efefef" stroke-width="0.6" />
<rect x="170.1" y="302.8" width="37" height="116.9" fill="none" stroke="#d6d6d6" stroke-width="0.6"/>
<line x1="176.85" y1="420" x2="176.85" y2="421.6" stroke="#888" stroke-width="0.5" />
<line x1="188.6" y1="420" x2="188.6" y2="421.6" stroke="#888" stroke-width="0.5" />
<line x1="200.35" y1="420" x2="200.35" y2="421.6" stroke="#888" stroke-width="0.5" />
<line x1="19.7" y1="415.3" x2="21" y2="415.3" stroke="#777" stroke-width="0.5" />
<text x="19.5" y="417.2" font-size="4.8" text-anchor="end" fill="#262626" font-weight="normal" font-style="normal" font-family='"Liberation Sans", sans-serif' >0.0</text>
<line x1="19.7" y1="388.4" x2="21" y2="388.4" stroke="#777" stroke-width="0.5" />
<text x="19.5" y="390.3" font-size="4.8" text-anchor="end" fill="#262626" font-weight="normal" font-style="normal" font-family='"Liberation Sans", sans-serif' >2.5</text>
<line x1="19.7" y1="361.5" x2="21" y2="361.5" stroke="#777" stroke-width="0.5" />
<text x="19.5" y="363.4" font-size="4.8" text-anchor="end" fill="#262626" font-weight="normal" font-style="normal" font-family='"Liberation Sans", sans-serif' >5.0</text>
<line x1="19.7" y1="334.7" x2="21" y2="334.7" stroke="#777" stroke-width="0.5" />
<text x="19.5" y="336.6" font-size="4.8" text-anchor="end" fill="#262626" font-weight="normal" font-style="normal" font-family='"Liberation Sans", sans-serif' >7.5</text>
<line x1="19.7" y1="307.9" x2="21" y2="307.9" stroke="#777" stroke-width="0.5" />
<text x="19.5" y="309.8" font-size="4.8" text-anchor="end" fill="#262626" font-weight="normal" font-style="normal" font-family='"Liberation Sans", sans-serif' >10.0</text>
<line x1="27.7" y1="337.6" x2="27.7" y2="349.3" stroke="#2f86c6" stroke-opacity="0.34" stroke-width="1.2"/>
<line x1="27.7" y1="325.5" x2="27.7" y2="326.5" stroke="#e8403c" stroke-opacity="0.3" stroke-width="1.2"/>
<rect x="26.85" y="342.45" width="1.7" height="1.7" fill="#2f86c6" />
<rect x="26.85" y="325.15" width="1.7" height="1.7" fill="#e8403c" />
<circle cx="24.5" cy="313.6" r="1.2" fill="#2e2e2e"/>
<circle cx="28.2" cy="313.6" r="1.2" fill="#2e2e2e"/>
<circle cx="31.9" cy="313.6" r="1.2" fill="#2e2e2e"/>
<line x1="43.3" y1="352" x2="43.3" y2="357.4" stroke="#2f86c6" stroke-opacity="0.34" stroke-width="1.2"/>
<line x1="43.3" y1="327.4" x2="43.3" y2="332.5" stroke="#e8403c" stroke-opacity="0.3" stroke-width="1.2"/>
<rect x="42.45" y="353.75" width="1.7" height="1.7" fill="#2f86c6" />
<rect x="42.45" y="329.15" width="1.7" height="1.7" fill="#e8403c" />
<circle cx="40.2" cy="313.6" r="1.2" fill="#2e2e2e"/>
<circle cx="43.9" cy="313.6" r="1.2" fill="#2e2e2e"/>
<circle cx="47.6" cy="313.6" r="1.2" fill="#2e2e2e"/>
<polyline points="59.28,350.9 70.75,362.8 82.22,367.9" fill="none" stroke="#c8c8c8" stroke-width="0.5" stroke-dasharray="0.8 0.8"/>
<polyline points="59.28,352.5 70.75,359.7 82.22,370.9" fill="none" stroke="#c8c8c8" stroke-width="0.5" stroke-dasharray="0.8 0.8"/>
<line x1="59.28" y1="347.2" x2="59.28" y2="354" stroke="#2f86c6" stroke-opacity="0.34" stroke-width="1.2"/>
<line x1="59.28" y1="351" x2="59.28" y2="354" stroke="#e8403c" stroke-opacity="0.3" stroke-width="1.2"/>
<line x1="70.75" y1="360" x2="70.75" y2="367" stroke="#2f86c6" stroke-opacity="0.34" stroke-width="1.2"/>
<line x1="70.75" y1="357.4" x2="70.75" y2="361.1" stroke="#e8403c" stroke-opacity="0.3" stroke-width="1.2"/>
<line x1="82.22" y1="364.8" x2="82.22" y2="370.3" stroke="#2f86c6" stroke-opacity="0.34" stroke-width="1.2"/>
<line x1="82.22" y1="368.3" x2="82.22" y2="375" stroke="#e8403c" stroke-opacity="0.3" stroke-width="1.2"/>
<rect x="58.43" y="350.05" width="1.7" height="1.7" fill="#2f86c6" />
<rect x="58.43" y="351.65" width="1.7" height="1.7" fill="#e8403c" />
<rect x="69.9" y="361.95" width="1.7" height="1.7" fill="#2f86c6" />
<rect x="69.9" y="358.85" width="1.7" height="1.7" fill="#e8403c" />
<rect x="81.37" y="367.05" width="1.7" height="1.7" fill="#2f86c6" />
<rect x="81.37" y="370.05" width="1.7" height="1.7" fill="#e8403c" />
<text x="71.2" y="317.7" font-size="7.7" text-anchor="middle" fill="#111" font-weight="normal" font-style="normal" font-family='"Liberation Sans", sans-serif' >ns</text>
<line x1="58" y1="324.4" x2="84.6" y2="324.4" stroke="#6e6e6e" stroke-width="1.25" />
<polyline points="98.17,363.2 109.8,361.6 121.43,378.5" fill="none" stroke="#c8c8c8" stroke-width="0.5" stroke-dasharray="0.8 0.8"/>
<polyline points="98.17,376.3 109.8,381.7 121.43,386.4" fill="none" stroke="#c8c8c8" stroke-width="0.5" stroke-dasharray="0.8 0.8"/>
<line x1="98.17" y1="360" x2="98.17" y2="366.8" stroke="#2f86c6" stroke-opacity="0.34" stroke-width="1.2"/>
<line x1="98.17" y1="374" x2="98.17" y2="378.5" stroke="#e8403c" stroke-opacity="0.3" stroke-width="1.2"/>
<line x1="109.8" y1="353" x2="109.8" y2="370.3" stroke="#2f86c6" stroke-opacity="0.34" stroke-width="1.2"/>
<line x1="109.8" y1="379.6" x2="109.8" y2="384" stroke="#e8403c" stroke-opacity="0.3" stroke-width="1.2"/>
<line x1="121.43" y1="377.5" x2="121.43" y2="379.5" stroke="#2f86c6" stroke-opacity="0.34" stroke-width="1.2"/>
<line x1="121.43" y1="385.5" x2="121.43" y2="387.3" stroke="#e8403c" stroke-opacity="0.3" stroke-width="1.2"/>
<rect x="97.33" y="362.35" width="1.7" height="1.7" fill="#2f86c6" />
<rect x="97.33" y="375.45" width="1.7" height="1.7" fill="#e8403c" />
<rect x="108.95" y="360.75" width="1.7" height="1.7" fill="#2f86c6" />
<rect x="108.95" y="380.85" width="1.7" height="1.7" fill="#e8403c" />
<rect x="120.58" y="377.65" width="1.7" height="1.7" fill="#2f86c6" />
<rect x="120.58" y="385.55" width="1.7" height="1.7" fill="#e8403c" />
<circle cx="106.9" cy="313.6" r="1.2" fill="#2e2e2e"/>
<circle cx="110.6" cy="313.6" r="1.2" fill="#2e2e2e"/>
<circle cx="114.3" cy="313.6" r="1.2" fill="#2e2e2e"/>
<line x1="98" y1="324.4" x2="123" y2="324.4" stroke="#6e6e6e" stroke-width="1.25" />
<polyline points="137.47,362.7 149.1,380.7 160.72,379.8" fill="none" stroke="#c8c8c8" stroke-width="0.5" stroke-dasharray="0.8 0.8"/>
<polyline points="137.47,383.1 149.1,387.7 160.72,390.5" fill="none" stroke="#c8c8c8" stroke-width="0.5" stroke-dasharray="0.8 0.8"/>
<line x1="137.47" y1="349" x2="137.47" y2="375.7" stroke="#2f86c6" stroke-opacity="0.34" stroke-width="1.2"/>
<line x1="137.47" y1="382" x2="137.47" y2="384" stroke="#e8403c" stroke-opacity="0.3" stroke-width="1.2"/>
<line x1="149.1" y1="379.8" x2="149.1" y2="381.6" stroke="#2f86c6" stroke-opacity="0.34" stroke-width="1.2"/>
<line x1="149.1" y1="387" x2="149.1" y2="388.5" stroke="#e8403c" stroke-opacity="0.3" stroke-width="1.2"/>
<line x1="160.72" y1="378.5" x2="160.72" y2="381" stroke="#2f86c6" stroke-opacity="0.34" stroke-width="1.2"/>
<line x1="160.72" y1="389.8" x2="160.72" y2="391.2" stroke="#e8403c" stroke-opacity="0.3" stroke-width="1.2"/>
<rect x="136.62" y="361.85" width="1.7" height="1.7" fill="#2f86c6" />
<rect x="136.62" y="382.25" width="1.7" height="1.7" fill="#e8403c" />
<rect x="148.25" y="379.85" width="1.7" height="1.7" fill="#2f86c6" />
<rect x="148.25" y="386.85" width="1.7" height="1.7" fill="#e8403c" />
<rect x="159.88" y="378.95" width="1.7" height="1.7" fill="#2f86c6" />
<rect x="159.88" y="389.65" width="1.7" height="1.7" fill="#e8403c" />
<circle cx="147.2" cy="313.6" r="1.2" fill="#2e2e2e"/>
<circle cx="150.9" cy="313.6" r="1.2" fill="#2e2e2e"/>
<circle cx="154.6" cy="313.6" r="1.2" fill="#2e2e2e"/>
<line x1="137.3" y1="324.4" x2="162.7" y2="324.4" stroke="#6e6e6e" stroke-width="1.25" />
<polyline points="176.85,382.3 188.6,387.2 200.35,391.3" fill="none" stroke="#c8c8c8" stroke-width="0.5" stroke-dasharray="0.8 0.8"/>
<polyline points="176.85,386.4 188.6,388.6 200.35,389.4" fill="none" stroke="#c8c8c8" stroke-width="0.5" stroke-dasharray="0.8 0.8"/>
<line x1="176.85" y1="380.4" x2="176.85" y2="384.5" stroke="#2f86c6" stroke-opacity="0.34" stroke-width="1.2"/>
<line x1="176.85" y1="385.5" x2="176.85" y2="387.3" stroke="#e8403c" stroke-opacity="0.3" stroke-width="1.2"/>
<line x1="188.6" y1="386.5" x2="188.6" y2="388" stroke="#2f86c6" stroke-opacity="0.34" stroke-width="1.2"/>
<line x1="188.6" y1="387.8" x2="188.6" y2="389.4" stroke="#e8403c" stroke-opacity="0.3" stroke-width="1.2"/>
<line x1="200.35" y1="390" x2="200.35" y2="392.5" stroke="#2f86c6" stroke-opacity="0.34" stroke-width="1.2"/>
<line x1="200.35" y1="388.5" x2="200.35" y2="390.5" stroke="#e8403c" stroke-opacity="0.3" stroke-width="1.2"/>
<rect x="176" y="381.45" width="1.7" height="1.7" fill="#2f86c6" />
<rect x="176" y="385.55" width="1.7" height="1.7" fill="#e8403c" />
<rect x="187.75" y="386.35" width="1.7" height="1.7" fill="#2f86c6" />
<rect x="187.75" y="387.75" width="1.7" height="1.7" fill="#e8403c" />
<rect x="199.5" y="390.45" width="1.7" height="1.7" fill="#2f86c6" />
<rect x="199.5" y="388.55" width="1.7" height="1.7" fill="#e8403c" />
<text x="188.4" y="317.7" font-size="7.7" text-anchor="middle" fill="#111" font-weight="normal" font-style="normal" font-family='"Liberation Sans", sans-serif' >ns</text>
<line x1="176.8" y1="324.4" x2="202.3" y2="324.4" stroke="#6e6e6e" stroke-width="1.25" />
<text x="27.7" y="425.5" font-size="5.0" text-anchor="middle" fill="#262626" font-weight="normal" font-style="normal" font-family='"Liberation Sans", sans-serif' >D0</text>
<text x="43.3" y="425.5" font-size="5.0" text-anchor="middle" fill="#262626" font-weight="normal" font-style="normal" font-family='"Liberation Sans", sans-serif' >D1</text>
<text x="59.28" y="425.5" font-size="5.0" text-anchor="middle" fill="#262626" font-weight="normal" font-style="normal" font-family='"Liberation Sans", sans-serif' >D5</text>
<text x="70.75" y="425.5" font-size="5.0" text-anchor="middle" fill="#262626" font-weight="normal" font-style="normal" font-family='"Liberation Sans", sans-serif' >D7</text>
<text x="82.22" y="425.5" font-size="5.0" text-anchor="middle" fill="#262626" font-weight="normal" font-style="normal" font-family='"Liberation Sans", sans-serif' >D10</text>
<text x="98.17" y="425.5" font-size="5.0" text-anchor="middle" fill="#262626" font-weight="normal" font-style="normal" font-family='"Liberation Sans", sans-serif' >D5</text>
<text x="109.8" y="425.5" font-size="5.0" text-anchor="middle" fill="#262626" font-weight="normal" font-style="normal" font-family='"Liberation Sans", sans-serif' >D7</text>
<text x="121.43" y="425.5" font-size="5.0" text-anchor="middle" fill="#262626" font-weight="normal" font-style="normal" font-family='"Liberation Sans", sans-serif' >D10</text>
<text x="137.47" y="425.5" font-size="5.0" text-anchor="middle" fill="#262626" font-weight="normal" font-style="normal" font-family='"Liberation Sans", sans-serif' >D5</text>
<text x="149.1" y="425.5" font-size="5.0" text-anchor="middle" fill="#262626" font-weight="normal" font-style="normal" font-family='"Liberation Sans", sans-serif' >D7</text>
<text x="160.72" y="425.5" font-size="5.0" text-anchor="middle" fill="#262626" font-weight="normal" font-style="normal" font-family='"Liberation Sans", sans-serif' >D10</text>
<text x="176.85" y="425.5" font-size="5.0" text-anchor="middle" fill="#262626" font-weight="normal" font-style="normal" font-family='"Liberation Sans", sans-serif' >D5</text>
<text x="188.6" y="425.5" font-size="5.0" text-anchor="middle" fill="#262626" font-weight="normal" font-style="normal" font-family='"Liberation Sans", sans-serif' >D7</text>
<text x="200.35" y="425.5" font-size="5.0" text-anchor="middle" fill="#262626" font-weight="normal" font-style="normal" font-family='"Liberation Sans", sans-serif' >D10</text>
<text x="8.2" y="361.2" font-size="5.9" text-anchor="middle" fill="#000" font-weight="normal" font-style="normal" font-family='"Liberation Sans", sans-serif' transform="rotate(-90 8.2 361.2)" >RIN</text>
<rect x="68" y="429" width="91.4" height="7.6" fill="#fff" stroke="#d9d9d9" stroke-width="0.5"/>
<text x="69.4" y="435" font-size="5.9" text-anchor="start" fill="#1a1a1a" font-weight="normal" font-style="normal" font-family='"Liberation Sans", sans-serif' >Tube type</text>
<circle cx="98.6" cy="433" r="0.9" fill="#e8403c"/>
<text x="104.2" y="435" font-size="5.9" text-anchor="start" fill="#1a1a1a" font-weight="normal" font-style="normal" font-family='"Liberation Sans", sans-serif' >PAXgene</text>
<circle cx="133.4" cy="433" r="0.9" fill="#2f86c6"/>
<text x="138.6" y="435" font-size="5.9" text-anchor="start" fill="#1a1a1a" font-weight="normal" font-style="normal" font-family='"Liberation Sans", sans-serif' >Tempus</text>
<text x="6.2" y="11.2" font-size="10" text-anchor="start" fill="#000" font-weight="bold" font-style="normal" font-family='"Liberation Sans", sans-serif' >A</text>
<text x="224.9" y="13" font-size="9.6" text-anchor="start" fill="#000" font-weight="bold" font-style="normal" font-family='"Liberation Sans", sans-serif' >B</text>
<polygon points="271.1,108.21 276.24,106.95 281.37,105.63 286.5,104.27 291.64,102.85 296.78,101.38 301.91,99.85 307.05,98.28 312.18,96.65 317.31,94.96 322.45,93.22 327.59,91.39 332.72,89.49 337.86,87.5 342.99,85.43 348.12,83.29 353.26,81.06 358.39,78.75 363.53,76.36 368.67,73.89 373.8,71.33 373.8,83.67 368.67,84.54 363.53,85.5 358.39,86.54 353.26,87.66 348.12,88.86 342.99,90.15 337.86,91.51 332.72,92.95 327.59,94.48 322.45,96.08 317.31,97.77 312.18,99.51 307.05,101.31 301.91,103.17 296.78,105.07 291.64,107.03 286.5,109.04 281.37,111.11 276.24,113.22 271.1,115.39" fill="#e6e6e6" stroke="none"/>
<circle cx="273.9" cy="83.6" r="1.2" fill="#111"/>
<circle cx="280.3" cy="85.3" r="1.2" fill="#111"/>
<circle cx="270.6" cy="109.4" r="1.2" fill="#111"/>
<circle cx="275.6" cy="120" r="1.2" fill="#111"/>
<circle cx="277.5" cy="112.9" r="1.2" fill="#111"/>
<circle cx="279.8" cy="119.3" r="1.2" fill="#111"/>
<circle cx="281.5" cy="120.7" r="1.2" fill="#111"/>
<circle cx="283.4" cy="116.9" r="1.2" fill="#111"/>
<circle cx="283.4" cy="107.5" r="1.2" fill="#111"/>
<circle cx="284.6" cy="104.2" r="1.2" fill="#111"/>
<circle cx="286.4" cy="105.4" r="1.2" fill="#111"/>
<circle cx="288.1" cy="103" r="1.2" fill="#111"/>
<circle cx="297.6" cy="105.4" r="1.2" fill="#111"/>
<circle cx="298.7" cy="118.4" r="1.2" fill="#111"/>
<circle cx="300.4" cy="86.9" r="1.2" fill="#111"/>
<circle cx="302.3" cy="115.3" r="1.2" fill="#111"/>
<circle cx="303" cy="102.3" r="1.2" fill="#111"/>
<circle cx="304.2" cy="98.3" r="1.2" fill="#111"/>
<circle cx="305.8" cy="115.3" r="1.2" fill="#111"/>
<circle cx="308.2" cy="94.7" r="1.2" fill="#111"/>
<circle cx="309.8" cy="91.6" r="1.2" fill="#111"/>
<circle cx="309.8" cy="112.9" r="1.2" fill="#111"/>
<circle cx="311.7" cy="104.6" r="1.2" fill="#111"/>
<circle cx="312.9" cy="96.4" r="1.2" fill="#111"/>
<circle cx="313.6" cy="104.6" r="1.2" fill="#111"/>
<circle cx="311.7" cy="98.3" r="1.2" fill="#111"/>
<circle cx="322.8" cy="92.3" r="1.2" fill="#111"/>
<circle cx="324.4" cy="83.4" r="1.2" fill="#111"/>
<circle cx="325" cy="90.9" r="1.2" fill="#111"/>
<circle cx="330" cy="92.8" r="1.2" fill="#111"/>
<circle cx="331.9" cy="90.4" r="1.2" fill="#111"/>
<circle cx="339.4" cy="91.6" r="1.2" fill="#111"/>
<circle cx="342.9" cy="80.6" r="1.2" fill="#111"/>
<circle cx="346" cy="86.9" r="1.2" fill="#111"/>
<circle cx="345" cy="109.1" r="1.2" fill="#111"/>
<circle cx="351.3" cy="97.5" r="1.2" fill="#111"/>
<circle cx="355.4" cy="82.3" r="1.2" fill="#111"/>
<circle cx="356.3" cy="81.9" r="1.2" fill="#111"/>
<circle cx="356.9" cy="74.8" r="1.2" fill="#111"/>
<circle cx="363.1" cy="75" r="1.2" fill="#111"/>
<circle cx="365.3" cy="69.6" r="1.2" fill="#111"/>
<circle cx="373.8" cy="77.5" r="1.2" fill="#111"/>
<line x1="271.1" y1="111.8" x2="373.8" y2="77.5" stroke="#3366ee" stroke-width="1.1" />
<line x1="258.3" y1="4.2" x2="258.3" y2="132.3" stroke="#333" stroke-width="0.6" />
<line x1="258.3" y1="132.3" x2="382" y2="132.3" stroke="#333" stroke-width="0.6" />
<line x1="255.9" y1="126.9" x2="258.3" y2="126.9" stroke="#333" stroke-width="0.6" />
<text x="255.4" y="129.25" font-size="6.6" text-anchor="end" fill="#333" font-weight="normal" font-style="normal" font-family='"Liberation Sans", sans-serif' >0</text>
<line x1="255.9" y1="103.56" x2="258.3" y2="103.56" stroke="#333" stroke-width="0.6" />
<text x="255.4" y="105.91" font-size="6.6" text-anchor="end" fill="#333" font-weight="normal" font-style="normal" font-family='"Liberation Sans", sans-serif' >100</text>
<line x1="255.9" y1="80.22" x2="258.3" y2="80.22" stroke="#333" stroke-width="0.6" />
<text x="255.4" y="82.57" font-size="6.6" text-anchor="end" fill="#333" font-weight="normal" font-style="normal" font-family='"Liberation Sans", sans-serif' >200</text>
<line x1="255.9" y1="56.88" x2="258.3" y2="56.88" stroke="#333" stroke-width="0.6" />
<text x="255.4" y="59.23" font-size="6.6" text-anchor="end" fill="#333" font-weight="normal" font-style="normal" font-family='"Liberation Sans", sans-serif' >300</text>
<line x1="255.9" y1="33.54" x2="258.3" y2="33.54" stroke="#333" stroke-width="0.6" />
<text x="255.4" y="35.89" font-size="6.6" text-anchor="end" fill="#333" font-weight="normal" font-style="normal" font-family='"Liberation Sans", sans-serif' >400</text>
<line x1="255.9" y1="10.2" x2="258.3" y2="10.2" stroke="#333" stroke-width="0.6" />
<text x="255.4" y="12.55" font-size="6.6" text-anchor="end" fill="#333" font-weight="normal" font-style="normal" font-family='"Liberation Sans", sans-serif' >500</text>
<line x1="264" y1="132.3" x2="264" y2="134.7" stroke="#333" stroke-width="0.6" />
<text x="264" y="139.9" font-size="6.6" text-anchor="middle" fill="#333" font-weight="normal" font-style="normal" font-family='"Liberation Sans", sans-serif' >0</text>
<line x1="286.62" y1="132.3" x2="286.62" y2="134.7" stroke="#333" stroke-width="0.6" />
<text x="286.62" y="139.9" font-size="6.6" text-anchor="middle" fill="#333" font-weight="normal" font-style="normal" font-family='"Liberation Sans", sans-serif' >100</text>
<line x1="309.24" y1="132.3" x2="309.24" y2="134.7" stroke="#333" stroke-width="0.6" />
<text x="309.24" y="139.9" font-size="6.6" text-anchor="middle" fill="#333" font-weight="normal" font-style="normal" font-family='"Liberation Sans", sans-serif' >200</text>
<line x1="331.86" y1="132.3" x2="331.86" y2="134.7" stroke="#333" stroke-width="0.6" />
<text x="331.86" y="139.9" font-size="6.6" text-anchor="middle" fill="#333" font-weight="normal" font-style="normal" font-family='"Liberation Sans", sans-serif' >300</text>
<line x1="354.48" y1="132.3" x2="354.48" y2="134.7" stroke="#333" stroke-width="0.6" />
<text x="354.48" y="139.9" font-size="6.6" text-anchor="middle" fill="#333" font-weight="normal" font-style="normal" font-family='"Liberation Sans", sans-serif' >400</text>
<line x1="377.1" y1="132.3" x2="377.1" y2="134.7" stroke="#333" stroke-width="0.6" />
<text x="377.1" y="139.9" font-size="6.6" text-anchor="middle" fill="#333" font-weight="normal" font-style="normal" font-family='"Liberation Sans", sans-serif' >500</text>
<text x="319.4" y="148.9" font-size="8.5" text-anchor="middle" fill="#000" font-weight="normal" font-style="normal" font-family='"Liberation Sans", sans-serif' >Bioanalyzer (ng/µL)</text>
<text x="242.3" y="68.3" font-size="8.35" text-anchor="middle" fill="#000" font-weight="normal" font-style="normal" font-family='"Liberation Sans", sans-serif' transform="rotate(-90 242.3 68.3)" >Spectrophotometer (ng/µL)</text>
<text x="266.7" y="18.3" font-size="8.7" font-family='"Liberation Sans", sans-serif' fill="#000">R=0.72, <tspan font-style="italic">p</tspan>=9.3e-09</text>
<polygon points="422,111.4 426.3,110.72 430.6,109.82 434.9,108.68 439.2,107.32 443.5,105.84 447.8,104.3 452.1,102.68 456.4,100.99 460.7,99.23 465,97.4 469.3,95.5 473.6,93.53 477.9,91.49 482.2,89.37 486.5,87.19 490.8,84.93 495.1,82.61 499.4,80.21 503.7,77.74 508,75.2 508,98 503.7,98.3 499.4,98.67 495.1,99.11 490.8,99.63 486.5,100.21 482.2,100.87 477.9,101.59 473.6,102.39 469.3,103.26 465,104.2 460.7,105.21 456.4,106.29 452.1,107.44 447.8,108.66 443.5,109.96 439.2,111.32 434.9,112.8 430.6,114.5 426.3,116.44 422,118.6" fill="#e6e6e6" stroke="none"/>
<circle cx="441.5" cy="80.2" r="1.2" fill="#111"/>
<circle cx="437.6" cy="86.3" r="1.2" fill="#111"/>
<circle cx="443.1" cy="93.8" r="1.2" fill="#111"/>
<circle cx="449.3" cy="94.9" r="1.2" fill="#111"/>
<circle cx="453.5" cy="97.6" r="1.2" fill="#111"/>
<circle cx="457.5" cy="93.4" r="1.2" fill="#111"/>
<circle cx="458.6" cy="96.7" r="1.2" fill="#111"/>
<circle cx="462.5" cy="89.9" r="1.2" fill="#111"/>
<circle cx="467.2" cy="90.4" r="1.2" fill="#111"/>
<circle cx="465.6" cy="96.5" r="1.2" fill="#111"/>
<circle cx="440.2" cy="99.3" r="1.2" fill="#111"/>
<circle cx="440.6" cy="100.4" r="1.2" fill="#111"/>
<circle cx="440.4" cy="101.7" r="1.2" fill="#111"/>
<circle cx="448.8" cy="100.1" r="1.2" fill="#111"/>
<circle cx="458.4" cy="101.3" r="1.2" fill="#111"/>
<circle cx="464.3" cy="101.1" r="1.2" fill="#111"/>
<circle cx="470.2" cy="105.6" r="1.2" fill="#111"/>
<circle cx="450" cy="106.7" r="1.2" fill="#111"/>
<circle cx="445.6" cy="110.2" r="1.2" fill="#111"/>
<circle cx="441.1" cy="110.4" r="1.2" fill="#111"/>
<circle cx="442.5" cy="111.3" r="1.2" fill="#111"/>
<circle cx="436.7" cy="113.3" r="1.2" fill="#111"/>
<circle cx="478" cy="101" r="1.2" fill="#111"/>
<circle cx="479" cy="100" r="1.2" fill="#111"/>
<circle cx="507.6" cy="116.6" r="1.2" fill="#111"/>
<circle cx="421.8" cy="123.9" r="1.2" fill="#111"/>
<circle cx="424.8" cy="119.8" r="1.2" fill="#111"/>
<circle cx="426.2" cy="121" r="1.2" fill="#111"/>
<circle cx="427.6" cy="118.1" r="1.2" fill="#111"/>
<circle cx="428.9" cy="120.8" r="1.2" fill="#111"/>
<circle cx="428.7" cy="119.8" r="1.2" fill="#111"/>
<circle cx="431.4" cy="116.7" r="1.2" fill="#111"/>
<circle cx="432.8" cy="115.4" r="1.2" fill="#111"/>
<circle cx="433.9" cy="117.8" r="1.2" fill="#111"/>
<circle cx="432.5" cy="117.6" r="1.2" fill="#111"/>
<circle cx="429.8" cy="121.6" r="1.2" fill="#111"/>
<circle cx="425.6" cy="120.4" r="1.2" fill="#111"/>
<line x1="422" y1="115" x2="508" y2="86.6" stroke="#ee4433" stroke-width="1.1" />
<line x1="412.4" y1="4.2" x2="412.4" y2="132.3" stroke="#333" stroke-width="0.6" />
<line x1="412.4" y1="132.3" x2="536" y2="132.3" stroke="#333" stroke-width="0.6" />
<line x1="410" y1="126.8" x2="412.4" y2="126.8" stroke="#333" stroke-width="0.6" />
<text x="409.5" y="129.15" font-size="6.6" text-anchor="end" fill="#333" font-weight="normal" font-style="normal" font-family='"Liberation Sans", sans-serif' >0</text>
<line x1="410" y1="103.48" x2="412.4" y2="103.48" stroke="#333" stroke-width="0.6" />
<text x="409.5" y="105.83" font-size="6.6" text-anchor="end" fill="#333" font-weight="normal" font-style="normal" font-family='"Liberation Sans", sans-serif' >100</text>
<line x1="410" y1="80.16" x2="412.4" y2="80.16" stroke="#333" stroke-width="0.6" />
<text x="409.5" y="82.51" font-size="6.6" text-anchor="end" fill="#333" font-weight="normal" font-style="normal" font-family='"Liberation Sans", sans-serif' >200</text>
<line x1="410" y1="56.84" x2="412.4" y2="56.84" stroke="#333" stroke-width="0.6" />
<text x="409.5" y="59.19" font-size="6.6" text-anchor="end" fill="#333" font-weight="normal" font-style="normal" font-family='"Liberation Sans", sans-serif' >300</text>
<line x1="410" y1="33.52" x2="412.4" y2="33.52" stroke="#333" stroke-width="0.6" />
<text x="409.5" y="35.87" font-size="6.6" text-anchor="end" fill="#333" font-weight="normal" font-style="normal" font-family='"Liberation Sans", sans-serif' >400</text>
<line x1="410" y1="10.2" x2="412.4" y2="10.2" stroke="#333" stroke-width="0.6" />
<text x="409.5" y="12.55" font-size="6.6" text-anchor="end" fill="#333" font-weight="normal" font-style="normal" font-family='"Liberation Sans", sans-serif' >500</text>
<line x1="417.2" y1="132.3" x2="417.2" y2="134.7" stroke="#333" stroke-width="0.6" />
<text x="417.2" y="139.9" font-size="6.6" text-anchor="middle" fill="#333" font-weight="normal" font-style="normal" font-family='"Liberation Sans", sans-serif' >0</text>
<line x1="440.05" y1="132.3" x2="440.05" y2="134.7" stroke="#333" stroke-width="0.6" />
<text x="440.05" y="139.9" font-size="6.6" text-anchor="middle" fill="#333" font-weight="normal" font-style="normal" font-family='"Liberation Sans", sans-serif' >100</text>
<line x1="462.9" y1="132.3" x2="462.9" y2="134.7" stroke="#333" stroke-width="0.6" />
<text x="462.9" y="139.9" font-size="6.6" text-anchor="middle" fill="#333" font-weight="normal" font-style="normal" font-family='"Liberation Sans", sans-serif' >200</text>
<line x1="485.75" y1="132.3" x2="485.75" y2="134.7" stroke="#333" stroke-width="0.6" />
<text x="485.75" y="139.9" font-size="6.6" text-anchor="middle" fill="#333" font-weight="normal" font-style="normal" font-family='"Liberation Sans", sans-serif' >300</text>
<line x1="508.6" y1="132.3" x2="508.6" y2="134.7" stroke="#333" stroke-width="0.6" />
<text x="508.6" y="139.9" font-size="6.6" text-anchor="middle" fill="#333" font-weight="normal" font-style="normal" font-family='"Liberation Sans", sans-serif' >400</text>
<line x1="531.45" y1="132.3" x2="531.45" y2="134.7" stroke="#333" stroke-width="0.6" />
<text x="531.45" y="139.9" font-size="6.6" text-anchor="middle" fill="#333" font-weight="normal" font-style="normal" font-family='"Liberation Sans", sans-serif' >500</text>
<text x="474.2" y="148.9" font-size="8.5" text-anchor="middle" fill="#000" font-weight="normal" font-style="normal" font-family='"Liberation Sans", sans-serif' >Bioanalyzer (ng/µL)</text>
<text x="396.2" y="68.3" font-size="8.35" text-anchor="middle" fill="#000" font-weight="normal" font-style="normal" font-family='"Liberation Sans", sans-serif' transform="rotate(-90 396.2 68.3)" >Spectrophotometer (ng/µL)</text>
<text x="422.5" y="18.3" font-size="8.7" font-family='"Liberation Sans", sans-serif' fill="#000">R=0.52, <tspan font-style="italic">p</tspan>=0.0002</text>
<text x="218.5" y="168.8" font-size="9.4" text-anchor="start" fill="#000" font-weight="bold" font-style="normal" font-family='"Liberation Sans", sans-serif' >C</text>
<text x="282" y="169.4" font-size="9.8" font-family='"Liberation Sans", sans-serif' fill="#000">Tempus<tspan font-size="4.6" dy="-4.6">TM</tspan></text>
<text x="435.6" y="169.2" font-size="9.8" font-family='"Liberation Sans", sans-serif' fill="#000">PAXgene<tspan font-size="6" dy="-3.8">®</tspan></text>
<text x="226.4" y="197.5" font-size="8.4" text-anchor="middle" fill="#000" font-weight="normal" font-style="normal" font-family='"Liberation Sans", sans-serif' transform="rotate(-90 226.4 197.5)" >Fresh</text>
<text x="226.4" y="261.3" font-size="8.4" text-anchor="middle" fill="#000" font-weight="normal" font-style="normal" font-family='"Liberation Sans", sans-serif' transform="rotate(-90 226.4 261.3)" >Control</text>
<text x="226.4" y="323.5" font-size="8.7" text-anchor="middle" fill="#000" font-weight="normal" font-style="normal" font-family='"Liberation Sans", sans-serif' transform="rotate(-90 226.4 323.5)" >5 days at 25°C</text>
<text x="226.4" y="392.9" font-size="8.7" text-anchor="middle" fill="#000" font-weight="normal" font-style="normal" font-family='"Liberation Sans", sans-serif' transform="rotate(-90 226.4 392.9)" >5 days at 40°C</text>
<defs>
<linearGradient id="boxg" x1="0" y1="0" x2="0" y2="1">
<stop offset="0" stop-color="#f8f8f8"/><stop offset="0.7" stop-color="#f1f1f1"/><stop offset="0.75" stop-color="#eeeeee"/><stop offset="1" stop-color="#ececec"/>
</linearGradient>
</defs>
<rect x="230.2" y="176.4" width="138.4" height="42.8" fill="url(#boxg)" />
<rect x="329" y="176.4" width="39.6" height="18.4" fill="#ffffff" />
<line x1="241.7" y1="207.9" x2="365.6" y2="207.9" stroke="#a8a8a8" stroke-width="0.9" />
<line x1="254.9" y1="207.9" x2="254.9" y2="209.5" stroke="#666" stroke-width="0.4" />
<text x="254.9" y="214.5" font-size="4.2" text-anchor="middle" font-family='"Liberation Serif", serif' fill="#2a3a4a">25</text>
<line x1="270.3" y1="207.9" x2="270.3" y2="209.5" stroke="#666" stroke-width="0.4" />
<text x="270.3" y="214.5" font-size="4.2" text-anchor="middle" font-family='"Liberation Serif", serif' fill="#2a3a4a">200</text>
<line x1="279.5" y1="207.9" x2="279.5" y2="209.5" stroke="#666" stroke-width="0.4" />
<line x1="291.5" y1="207.9" x2="291.5" y2="209.5" stroke="#666" stroke-width="0.4" />
<text x="291.5" y="214.5" font-size="4.2" text-anchor="middle" font-family='"Liberation Serif", serif' fill="#2a3a4a">1000</text>
<line x1="304.8" y1="207.9" x2="304.8" y2="209.5" stroke="#666" stroke-width="0.4" />
<text x="304.8" y="214.5" font-size="4.2" text-anchor="middle" font-family='"Liberation Serif", serif' fill="#2a3a4a">2000</text>
<line x1="321.4" y1="207.9" x2="321.4" y2="209.5" stroke="#666" stroke-width="0.4" />
<text x="321.4" y="214.5" font-size="4.2" text-anchor="middle" font-family='"Liberation Serif", serif' fill="#2a3a4a">4000</text>
<text x="366.1" y="214.5" font-size="4.2" text-anchor="middle" font-family='"Liberation Serif", serif' fill="#2a3a4a">[nt]</text>
<line x1="241.7" y1="180.6" x2="241.7" y2="207.9" stroke="#ee8e8e" stroke-width="0.8" />
<text x="238.9" y="182" font-size="4.5" text-anchor="end" font-family='"Liberation Serif", serif' fill="#e02828">[FU]</text>
<line x1="240.3" y1="188.6" x2="241.7" y2="188.6" stroke="#ee7070" stroke-width="0.5" />
<text x="238.9" y="190" font-size="4.6" text-anchor="end" font-family='"Liberation Serif", serif' fill="#e02828">200</text>
<line x1="240.3" y1="194.2" x2="241.7" y2="194.2" stroke="#ee7070" stroke-width="0.5" />
<text x="238.9" y="195.6" font-size="4.6" text-anchor="end" font-family='"Liberation Serif", serif' fill="#e02828">150</text>
<line x1="240.3" y1="199.9" x2="241.7" y2="199.9" stroke="#ee7070" stroke-width="0.5" />
<text x="238.9" y="201.3" font-size="4.6" text-anchor="end" font-family='"Liberation Serif", serif' fill="#e02828">50</text>
<line x1="240.3" y1="205.6" x2="241.7" y2="205.6" stroke="#ee7070" stroke-width="0.5" />
<text x="238.9" y="207" font-size="4.6" text-anchor="end" font-family='"Liberation Serif", serif' fill="#e02828">0</text>
<polyline points="242,205.6 248,205.2 254,205.4 254.8,203.5 255.3,202.5 256,205 258,205.5 266,205.2 266.6,204.6 267.2,205.3 280,205.3 290,204.8 295,204 297,203 298.5,203.3 299.5,202 300.5,197 301.2,184 301.6,181.7 302.1,186 302.7,200 303.5,203.8 305,203.2 307,202.5 309,202 311,202.5 313,203 315,202.5 316.3,196 317.2,187 317.7,185.8 318.3,188 319.2,197 320.2,204.5 321,205.4 330,205.5 366,205.5" fill="none" stroke="#e23030" stroke-width="0.72" stroke-linejoin="round"/>
<text x="337.3" y="189.8" font-size="6.3" font-family='"Liberation Serif", serif' fill="#111">RIN=8.5</text>
<text x="273.6" y="187.4" font-size="6.2" font-style="italic" font-family='"Liberation Serif", serif' fill="#111">18S</text>
<line x1="286.1" y1="184.7" x2="299.8" y2="192.8" stroke="#222" stroke-width="0.6" />
<text x="335.5" y="198.4" font-size="6.2" font-style="italic" font-family='"Liberation Serif", serif' fill="#111">28S</text>
<line x1="319.3" y1="186.8" x2="334.2" y2="193.2" stroke="#222" stroke-width="0.6" />
<rect x="230.2" y="241.2" width="138.4" height="42.4" fill="url(#boxg)" />
<rect x="328.6" y="244.8" width="40.2" height="16.8" fill="#ffffff" />
<line x1="242.2" y1="272.7" x2="365.6" y2="272.7" stroke="#a8a8a8" stroke-width="0.9" />
<line x1="255.2" y1="272.7" x2="255.2" y2="274.3" stroke="#666" stroke-width="0.4" />
<text x="255.2" y="279.3" font-size="4.2" text-anchor="middle" font-family='"Liberation Serif", serif' fill="#2a3a4a">25</text>
<line x1="270.6" y1="272.7" x2="270.6" y2="274.3" stroke="#666" stroke-width="0.4" />
<text x="270.6" y="279.3" font-size="4.2" text-anchor="middle" font-family='"Liberation Serif", serif' fill="#2a3a4a">200</text>
<line x1="280" y1="272.7" x2="280" y2="274.3" stroke="#666" stroke-width="0.4" />
<line x1="292.3" y1="272.7" x2="292.3" y2="274.3" stroke="#666" stroke-width="0.4" />
<text x="292.3" y="279.3" font-size="4.2" text-anchor="middle" font-family='"Liberation Serif", serif' fill="#2a3a4a">1000</text>
<line x1="305.6" y1="272.7" x2="305.6" y2="274.3" stroke="#666" stroke-width="0.4" />
<text x="305.6" y="279.3" font-size="4.2" text-anchor="middle" font-family='"Liberation Serif", serif' fill="#2a3a4a">2000</text>
<line x1="322.3" y1="272.7" x2="322.3" y2="274.3" stroke="#666" stroke-width="0.4" />
<text x="322.3" y="279.3" font-size="4.2" text-anchor="middle" font-family='"Liberation Serif", serif' fill="#2a3a4a">4000</text>
<text x="366.1" y="279.3" font-size="4.2" text-anchor="middle" font-family='"Liberation Serif", serif' fill="#2a3a4a">[nt]</text>
<line x1="242.2" y1="245.4" x2="242.2" y2="272.7" stroke="#ee8e8e" stroke-width="0.8" />
<text x="239.4" y="246.8" font-size="4.5" text-anchor="end" font-family='"Liberation Serif", serif' fill="#e02828">[FU]</text>
<line x1="240.8" y1="252.6" x2="242.2" y2="252.6" stroke="#ee7070" stroke-width="0.5" />
<text x="239.4" y="254" font-size="4.6" text-anchor="end" font-family='"Liberation Serif", serif' fill="#e02828">150</text>
<line x1="240.8" y1="257.6" x2="242.2" y2="257.6" stroke="#ee7070" stroke-width="0.5" />
<text x="239.4" y="259" font-size="4.6" text-anchor="end" font-family='"Liberation Serif", serif' fill="#e02828">100</text>
<line x1="240.8" y1="262.8" x2="242.2" y2="262.8" stroke="#ee7070" stroke-width="0.5" />
<text x="239.4" y="264.2" font-size="4.6" text-anchor="end" font-family='"Liberation Serif", serif' fill="#e02828">50</text>
<line x1="240.8" y1="270.3" x2="242.2" y2="270.3" stroke="#ee7070" stroke-width="0.5" />
<text x="239.4" y="271.7" font-size="4.6" text-anchor="end" font-family='"Liberation Serif", serif' fill="#e02828">0</text>
<polyline points="242,270.3 254.5,270 255.5,267.5 256.5,270 270,270 280.9,269.5 289.1,268.6 295.6,267.5 298.9,265.9 300.6,261.3 301.9,257.2 303,264.5 304.6,265.9 306.8,260.5 307.9,262.1 309.6,264.5 311.2,265.4 312.8,264.5 315.3,261.3 317,254 318.6,246.9 320.2,261.3 321.8,265.9 325.1,267.5 330,268.2 340,269 366,269.5" fill="none" stroke="#e23030" stroke-width="0.72" stroke-linejoin="round"/>
<text x="337.1" y="254.6" font-size="6.3" font-family='"Liberation Serif", serif' fill="#111">RIN=5.8</text>
<rect x="230.2" y="303" width="138.4" height="42.6" fill="url(#boxg)" />
<rect x="331" y="305.5" width="37.6" height="17" fill="#ffffff" />
<line x1="242.2" y1="334.5" x2="365.6" y2="334.5" stroke="#a8a8a8" stroke-width="0.9" />
<line x1="256.7" y1="334.5" x2="256.7" y2="336.1" stroke="#666" stroke-width="0.4" />
<text x="256.7" y="341.1" font-size="4.2" text-anchor="middle" font-family='"Liberation Serif", serif' fill="#2a3a4a">25</text>
<line x1="272.2" y1="334.5" x2="272.2" y2="336.1" stroke="#666" stroke-width="0.4" />
<text x="272.2" y="341.1" font-size="4.2" text-anchor="middle" font-family='"Liberation Serif", serif' fill="#2a3a4a">200</text>
<line x1="283" y1="334.5" x2="283" y2="336.1" stroke="#666" stroke-width="0.4" />
<line x1="296" y1="334.5" x2="296" y2="336.1" stroke="#666" stroke-width="0.4" />
<text x="296" y="341.1" font-size="4.2" text-anchor="middle" font-family='"Liberation Serif", serif' fill="#2a3a4a">1000</text>
<line x1="309.9" y1="334.5" x2="309.9" y2="336.1" stroke="#666" stroke-width="0.4" />
<text x="309.9" y="341.1" font-size="4.2" text-anchor="middle" font-family='"Liberation Serif", serif' fill="#2a3a4a">2000</text>
<line x1="326.9" y1="334.5" x2="326.9" y2="336.1" stroke="#666" stroke-width="0.4" />
<text x="326.9" y="341.1" font-size="4.2" text-anchor="middle" font-family='"Liberation Serif", serif' fill="#2a3a4a">4000</text>
<text x="366.1" y="341.1" font-size="4.2" text-anchor="middle" font-family='"Liberation Serif", serif' fill="#2a3a4a">[nt]</text>
<line x1="242.2" y1="307.2" x2="242.2" y2="334.5" stroke="#ee8e8e" stroke-width="0.8" />
<text x="239.4" y="308.6" font-size="4.5" text-anchor="end" font-family='"Liberation Serif", serif' fill="#e02828">[FU]</text>
<line x1="240.8" y1="311.6" x2="242.2" y2="311.6" stroke="#ee7070" stroke-width="0.5" />
<text x="239.4" y="313" font-size="4.6" text-anchor="end" font-family='"Liberation Serif", serif' fill="#e02828">200</text>
<line x1="240.8" y1="321.8" x2="242.2" y2="321.8" stroke="#ee7070" stroke-width="0.5" />
<text x="239.4" y="323.2" font-size="4.6" text-anchor="end" font-family='"Liberation Serif", serif' fill="#e02828">100</text>
<line x1="240.8" y1="333.1" x2="242.2" y2="333.1" stroke="#ee7070" stroke-width="0.5" />
<text x="239.4" y="334.5" font-size="4.6" text-anchor="end" font-family='"Liberation Serif", serif' fill="#e02828">0</text>
<polyline points="242,333 256.3,332.8 257.2,330.5 258,332.8 267.8,332.6 268.6,328.9 269.4,332.5 280,332.5 282.6,331.2 287.5,330 289.1,330.8 294,329.2 298.9,328.4 301.4,326.7 303,327.5 304.3,324.3 305.5,309.2 306.8,328.4 308.7,327.5 310.4,326.7 313.6,327.5 316.9,327.2 320.2,325.9 321.8,322.6 323.1,320.7 324.8,327.5 326.4,331.6 328.4,332.5 366,332.8" fill="none" stroke="#e23030" stroke-width="0.72" stroke-linejoin="round"/>
<text x="340.2" y="317.4" font-size="6.3" font-family='"Liberation Serif", serif' fill="#111">RIN=6.4</text>
<rect x="230.2" y="371.7" width="138.4" height="43.3" fill="url(#boxg)" />
<rect x="331" y="375" width="37.6" height="17" fill="#ffffff" />
<line x1="242.2" y1="403.2" x2="365.6" y2="403.2" stroke="#a8a8a8" stroke-width="0.9" />
<line x1="256.7" y1="403.2" x2="256.7" y2="404.8" stroke="#666" stroke-width="0.4" />
<text x="256.7" y="409.8" font-size="4.2" text-anchor="middle" font-family='"Liberation Serif", serif' fill="#2a3a4a">25</text>
<line x1="272.2" y1="403.2" x2="272.2" y2="404.8" stroke="#666" stroke-width="0.4" />
<text x="272.2" y="409.8" font-size="4.2" text-anchor="middle" font-family='"Liberation Serif", serif' fill="#2a3a4a">200</text>
<line x1="283" y1="403.2" x2="283" y2="404.8" stroke="#666" stroke-width="0.4" />
<line x1="296" y1="403.2" x2="296" y2="404.8" stroke="#666" stroke-width="0.4" />
<text x="296" y="409.8" font-size="4.2" text-anchor="middle" font-family='"Liberation Serif", serif' fill="#2a3a4a">1000</text>
<line x1="310.2" y1="403.2" x2="310.2" y2="404.8" stroke="#666" stroke-width="0.4" />
<text x="310.2" y="409.8" font-size="4.2" text-anchor="middle" font-family='"Liberation Serif", serif' fill="#2a3a4a">2000</text>
<line x1="326.9" y1="403.2" x2="326.9" y2="404.8" stroke="#666" stroke-width="0.4" />
<text x="326.9" y="409.8" font-size="4.2" text-anchor="middle" font-family='"Liberation Serif", serif' fill="#2a3a4a">4000</text>
<text x="366.1" y="409.8" font-size="4.2" text-anchor="middle" font-family='"Liberation Serif", serif' fill="#2a3a4a">[nt]</text>
<line x1="242.2" y1="375.9" x2="242.2" y2="403.2" stroke="#ee8e8e" stroke-width="0.8" />
<text x="239.4" y="377.3" font-size="4.5" text-anchor="end" font-family='"Liberation Serif", serif' fill="#e02828">[FU]</text>
<line x1="240.8" y1="384.1" x2="242.2" y2="384.1" stroke="#ee7070" stroke-width="0.5" />
<text x="239.4" y="385.5" font-size="4.6" text-anchor="end" font-family='"Liberation Serif", serif' fill="#e02828">20</text>
<line x1="240.8" y1="392.5" x2="242.2" y2="392.5" stroke="#ee7070" stroke-width="0.5" />
<text x="239.4" y="393.9" font-size="4.6" text-anchor="end" font-family='"Liberation Serif", serif' fill="#e02828">10</text>
<line x1="240.8" y1="401.1" x2="242.2" y2="401.1" stroke="#ee7070" stroke-width="0.5" />
<text x="239.4" y="402.5" font-size="4.6" text-anchor="end" font-family='"Liberation Serif", serif' fill="#e02828">0</text>
<polyline points="242,401.1 256,401.5 256.9,382.1 257.5,401.8 261.3,401.5 264.5,400.2 267,399 268.3,390.8 269.1,398.2 271.1,396.5 274.4,394.9 277.6,392.5 280.9,389.2 283.4,387.5 285.8,385.9 288,381 289.1,385.1 291.6,383.8 294,383.1 296.5,383.5 298.9,382.1 301.4,381.8 303,383.5 304.6,382.6 306.3,378.2 307.4,387.5 309.6,390 312,391.6 315.3,395.7 320.2,398.2 325.1,400.2 330,401.5 366,401.6" fill="none" stroke="#e23030" stroke-width="0.72" stroke-linejoin="round"/>
<text x="340.2" y="384.4" font-size="6.3" font-family='"Liberation Serif", serif' fill="#111">RIN=3.1</text>
<rect x="386.8" y="176.4" width="138.5" height="42.8" fill="url(#boxg)" />
<rect x="481" y="176.4" width="44.3" height="18.6" fill="#ffffff" />
<line x1="398.6" y1="207.9" x2="522.3" y2="207.9" stroke="#a8a8a8" stroke-width="0.9" />
<line x1="411" y1="207.9" x2="411" y2="209.5" stroke="#666" stroke-width="0.4" />
<text x="411" y="214.5" font-size="4.2" text-anchor="middle" font-family='"Liberation Serif", serif' fill="#2a3a4a">25</text>
<line x1="425.7" y1="207.9" x2="425.7" y2="209.5" stroke="#666" stroke-width="0.4" />
<text x="425.7" y="214.5" font-size="4.2" text-anchor="middle" font-family='"Liberation Serif", serif' fill="#2a3a4a">200</text>
<line x1="435" y1="207.9" x2="435" y2="209.5" stroke="#666" stroke-width="0.4" />
<line x1="447.4" y1="207.9" x2="447.4" y2="209.5" stroke="#666" stroke-width="0.4" />
<text x="447.4" y="214.5" font-size="4.2" text-anchor="middle" font-family='"Liberation Serif", serif' fill="#2a3a4a">1000</text>
<line x1="461" y1="207.9" x2="461" y2="209.5" stroke="#666" stroke-width="0.4" />
<text x="461" y="214.5" font-size="4.2" text-anchor="middle" font-family='"Liberation Serif", serif' fill="#2a3a4a">2000</text>
<line x1="476.4" y1="207.9" x2="476.4" y2="209.5" stroke="#666" stroke-width="0.4" />
<text x="476.4" y="214.5" font-size="4.2" text-anchor="middle" font-family='"Liberation Serif", serif' fill="#2a3a4a">4000</text>
<text x="522.8" y="214.5" font-size="4.2" text-anchor="middle" font-family='"Liberation Serif", serif' fill="#2a3a4a">[nt]</text>
<line x1="398.6" y1="180.6" x2="398.6" y2="207.9" stroke="#ee8e8e" stroke-width="0.8" />
<text x="395.8" y="182" font-size="4.5" text-anchor="end" font-family='"Liberation Serif", serif' fill="#e02828">[FU]</text>
<line x1="397.2" y1="187.5" x2="398.6" y2="187.5" stroke="#ee7070" stroke-width="0.5" />
<text x="395.8" y="188.9" font-size="4.6" text-anchor="end" font-family='"Liberation Serif", serif' fill="#e02828">200</text>
<line x1="397.2" y1="196.9" x2="398.6" y2="196.9" stroke="#ee7070" stroke-width="0.5" />
<text x="395.8" y="198.3" font-size="4.6" text-anchor="end" font-family='"Liberation Serif", serif' fill="#e02828">100</text>
<line x1="397.2" y1="206.3" x2="398.6" y2="206.3" stroke="#ee7070" stroke-width="0.5" />
<text x="395.8" y="207.7" font-size="4.6" text-anchor="end" font-family='"Liberation Serif", serif' fill="#e02828">0</text>
<polyline points="397.8,206.3 409.9,206 411.1,204.2 412.4,206 415.6,204.6 416.9,198.9 417.8,197 418.9,200.5 420.2,203 422.2,205.1 430,205.8 448.4,204.6 451.6,203.5 454.1,202.2 455.3,195 456.2,182.2 457.1,195 457.9,203.8 461.5,203 464.7,202.2 468,203 470.5,200.5 471.3,194 472.1,189.1 473,194 474.2,202.2 476.2,205.5 480,206 522,206" fill="none" stroke="#e23030" stroke-width="0.72" stroke-linejoin="round"/>
<text x="496.8" y="190.1" font-size="6.3" font-family='"Liberation Serif", serif' fill="#111">RIN=8.2</text>
<text x="429.3" y="189.8" font-size="6.2" font-style="italic" font-family='"Liberation Serif", serif' fill="#111">18S</text>
<line x1="441.2" y1="186.2" x2="455.2" y2="193.6" stroke="#222" stroke-width="0.6" />
<text x="491.3" y="200.2" font-size="6.2" font-style="italic" font-family='"Liberation Serif", serif' fill="#111">28S</text>
<line x1="474" y1="187.6" x2="490" y2="194.8" stroke="#222" stroke-width="0.6" />
<rect x="386.8" y="241.2" width="138.5" height="42.4" fill="url(#boxg)" />
<rect x="490" y="244.8" width="35" height="16.8" fill="#ffffff" />
<line x1="400.1" y1="272.7" x2="522.3" y2="272.7" stroke="#a8a8a8" stroke-width="0.9" />
<line x1="414.9" y1="272.7" x2="414.9" y2="274.3" stroke="#666" stroke-width="0.4" />
<text x="414.9" y="279.3" font-size="4.2" text-anchor="middle" font-family='"Liberation Serif", serif' fill="#2a3a4a">25</text>
<line x1="431" y1="272.7" x2="431" y2="274.3" stroke="#666" stroke-width="0.4" />
<text x="431" y="279.3" font-size="4.2" text-anchor="middle" font-family='"Liberation Serif", serif' fill="#2a3a4a">200</text>
<line x1="440" y1="272.7" x2="440" y2="274.3" stroke="#666" stroke-width="0.4" />
<line x1="453.6" y1="272.7" x2="453.6" y2="274.3" stroke="#666" stroke-width="0.4" />
<text x="453.6" y="279.3" font-size="4.2" text-anchor="middle" font-family='"Liberation Serif", serif' fill="#2a3a4a">1000</text>
<line x1="467.5" y1="272.7" x2="467.5" y2="274.3" stroke="#666" stroke-width="0.4" />
<text x="467.5" y="279.3" font-size="4.2" text-anchor="middle" font-family='"Liberation Serif", serif' fill="#2a3a4a">2000</text>
<line x1="485.1" y1="272.7" x2="485.1" y2="274.3" stroke="#666" stroke-width="0.4" />
<text x="485.1" y="279.3" font-size="4.2" text-anchor="middle" font-family='"Liberation Serif", serif' fill="#2a3a4a">4000</text>
<text x="522.8" y="279.3" font-size="4.2" text-anchor="middle" font-family='"Liberation Serif", serif' fill="#2a3a4a">[nt]</text>
<line x1="400.1" y1="245.4" x2="400.1" y2="272.7" stroke="#ee8e8e" stroke-width="0.8" />
<text x="397.3" y="246.8" font-size="4.5" text-anchor="end" font-family='"Liberation Serif", serif' fill="#e02828">[FU]</text>
<line x1="398.7" y1="250.9" x2="400.1" y2="250.9" stroke="#ee7070" stroke-width="0.5" />
<text x="397.3" y="252.3" font-size="4.6" text-anchor="end" font-family='"Liberation Serif", serif' fill="#e02828">200</text>
<line x1="398.7" y1="261.1" x2="400.1" y2="261.1" stroke="#ee7070" stroke-width="0.5" />
<text x="397.3" y="262.5" font-size="4.6" text-anchor="end" font-family='"Liberation Serif", serif' fill="#e02828">100</text>
<line x1="398.7" y1="270.9" x2="400.1" y2="270.9" stroke="#ee7070" stroke-width="0.5" />
<text x="397.3" y="272.3" font-size="4.6" text-anchor="end" font-family='"Liberation Serif", serif' fill="#e02828">0</text>
<polyline points="400.1,270.8 414,270.8 415.3,268.2 416.5,270.3 420.5,269.5 422.2,267 423.8,269.1 425.5,269.1 427.1,270.3 440,270.5 453.3,270 458.2,269.1 461.5,267.5 463.1,262.9 464.1,246.5 465.2,267.5 468,268.6 471.3,267.8 474.6,267.5 477.8,267.8 480.3,264.5 482.3,254.7 484.4,266.2 486,269.5 490,270.4 522,270.5" fill="none" stroke="#e23030" stroke-width="0.72" stroke-linejoin="round"/>
<text x="499" y="254.6" font-size="6.3" font-family='"Liberation Serif", serif' fill="#111">RIN=8.2</text>
<rect x="386.8" y="303" width="138.5" height="42.6" fill="url(#boxg)" />
<rect x="488" y="305.5" width="37" height="17" fill="#ffffff" />
<line x1="399.2" y1="334.5" x2="522.3" y2="334.5" stroke="#a8a8a8" stroke-width="0.9" />
<line x1="413.4" y1="334.5" x2="413.4" y2="336.1" stroke="#666" stroke-width="0.4" />
<text x="413.4" y="341.1" font-size="4.2" text-anchor="middle" font-family='"Liberation Serif", serif' fill="#2a3a4a">25</text>
<line x1="429.5" y1="334.5" x2="429.5" y2="336.1" stroke="#666" stroke-width="0.4" />
<text x="429.5" y="341.1" font-size="4.2" text-anchor="middle" font-family='"Liberation Serif", serif' fill="#2a3a4a">200</text>
<line x1="440" y1="334.5" x2="440" y2="336.1" stroke="#666" stroke-width="0.4" />
<line x1="453.3" y1="334.5" x2="453.3" y2="336.1" stroke="#666" stroke-width="0.4" />
<text x="453.3" y="341.1" font-size="4.2" text-anchor="middle" font-family='"Liberation Serif", serif' fill="#2a3a4a">1000</text>
<line x1="467.5" y1="334.5" x2="467.5" y2="336.1" stroke="#666" stroke-width="0.4" />
<text x="467.5" y="341.1" font-size="4.2" text-anchor="middle" font-family='"Liberation Serif", serif' fill="#2a3a4a">2000</text>
<line x1="485.1" y1="334.5" x2="485.1" y2="336.1" stroke="#666" stroke-width="0.4" />
<text x="485.1" y="341.1" font-size="4.2" text-anchor="middle" font-family='"Liberation Serif", serif' fill="#2a3a4a">4000</text>
<text x="522.8" y="341.1" font-size="4.2" text-anchor="middle" font-family='"Liberation Serif", serif' fill="#2a3a4a">[nt]</text>
<line x1="399.2" y1="307.2" x2="399.2" y2="334.5" stroke="#ee8e8e" stroke-width="0.8" />
<text x="396.4" y="308.6" font-size="4.5" text-anchor="end" font-family='"Liberation Serif", serif' fill="#e02828">[FU]</text>
<line x1="397.8" y1="310" x2="399.2" y2="310" stroke="#ee7070" stroke-width="0.5" />
<text x="396.4" y="311.4" font-size="4.6" text-anchor="end" font-family='"Liberation Serif", serif' fill="#e02828">60</text>
<line x1="397.8" y1="317.8" x2="399.2" y2="317.8" stroke="#ee7070" stroke-width="0.5" />
<text x="396.4" y="319.2" font-size="4.6" text-anchor="end" font-family='"Liberation Serif", serif' fill="#e02828">40</text>
<line x1="397.8" y1="325.5" x2="399.2" y2="325.5" stroke="#ee7070" stroke-width="0.5" />
<text x="396.4" y="326.9" font-size="4.6" text-anchor="end" font-family='"Liberation Serif", serif' fill="#e02828">20</text>
<line x1="397.8" y1="333.3" x2="399.2" y2="333.3" stroke="#ee7070" stroke-width="0.5" />
<text x="396.4" y="334.7" font-size="4.6" text-anchor="end" font-family='"Liberation Serif", serif' fill="#e02828">0</text>
<polyline points="398.5,333 412.9,333 413.7,322.6 414.5,332.5 418.9,330.8 420.9,324.3 422.5,329.2 423.8,330 425.1,328.4 426.3,330.8 427.9,332.5 435.3,331.6 440.2,330.5 443.5,329.2 446.7,329.5 450,328.9 453.3,327.9 456.6,325.9 459,326.7 461.5,324.3 462.8,321 463.9,309.2 465.1,324.3 466.4,328.4 468,325.9 470.5,326.7 472.9,327.5 475.4,326.2 477.8,327.2 480.3,325.1 481.9,321 482.7,320.2 484.4,327.5 486,332.1 490,332.8 522,332.8" fill="none" stroke="#e23030" stroke-width="0.72" stroke-linejoin="round"/>
<text x="496.8" y="317.4" font-size="6.3" font-family='"Liberation Serif", serif' fill="#111">RIN=5.7</text>
<rect x="386.8" y="371.7" width="138.5" height="43.3" fill="url(#boxg)" />
<rect x="490" y="376" width="35" height="17" fill="#ffffff" />
<line x1="399.2" y1="403.2" x2="522.3" y2="403.2" stroke="#a8a8a8" stroke-width="0.9" />
<line x1="411" y1="403.2" x2="411" y2="404.8" stroke="#666" stroke-width="0.4" />
<text x="411" y="409.8" font-size="4.2" text-anchor="middle" font-family='"Liberation Serif", serif' fill="#2a3a4a">25</text>
<line x1="425.7" y1="403.2" x2="425.7" y2="404.8" stroke="#666" stroke-width="0.4" />
<text x="425.7" y="409.8" font-size="4.2" text-anchor="middle" font-family='"Liberation Serif", serif' fill="#2a3a4a">200</text>
<line x1="435" y1="403.2" x2="435" y2="404.8" stroke="#666" stroke-width="0.4" />
<line x1="445.5" y1="403.2" x2="445.5" y2="404.8" stroke="#666" stroke-width="0.4" />
<text x="445.5" y="409.8" font-size="4.2" text-anchor="middle" font-family='"Liberation Serif", serif' fill="#2a3a4a">1000</text>
<line x1="458" y1="403.2" x2="458" y2="404.8" stroke="#666" stroke-width="0.4" />
<line x1="474.3" y1="403.2" x2="474.3" y2="404.8" stroke="#666" stroke-width="0.4" />
<text x="474.3" y="409.8" font-size="4.2" text-anchor="middle" font-family='"Liberation Serif", serif' fill="#2a3a4a">4000</text>
<text x="522.8" y="409.8" font-size="4.2" text-anchor="middle" font-family='"Liberation Serif", serif' fill="#2a3a4a">[nt]</text>
<line x1="399.2" y1="375.9" x2="399.2" y2="403.2" stroke="#ee8e8e" stroke-width="0.8" />
<text x="396.4" y="377.3" font-size="4.5" text-anchor="end" font-family='"Liberation Serif", serif' fill="#e02828">[FU]</text>
<line x1="397.8" y1="380" x2="399.2" y2="380" stroke="#ee7070" stroke-width="0.5" />
<text x="396.4" y="381.4" font-size="4.6" text-anchor="end" font-family='"Liberation Serif", serif' fill="#e02828">15</text>
<line x1="397.8" y1="387.8" x2="399.2" y2="387.8" stroke="#ee7070" stroke-width="0.5" />
<text x="396.4" y="389.2" font-size="4.6" text-anchor="end" font-family='"Liberation Serif", serif' fill="#e02828">10</text>
<line x1="397.8" y1="394.6" x2="399.2" y2="394.6" stroke="#ee7070" stroke-width="0.5" />
<text x="396.4" y="396" font-size="4.6" text-anchor="end" font-family='"Liberation Serif", serif' fill="#e02828">5</text>
<line x1="397.8" y1="401.1" x2="399.2" y2="401.1" stroke="#ee7070" stroke-width="0.5" />
<text x="396.4" y="402.5" font-size="4.6" text-anchor="end" font-family='"Liberation Serif", serif' fill="#e02828">0</text>
<polyline points="400.1,401.1 410.4,401.1 411.2,377.7 412,399.8 413.2,398.2 414.8,393.3 416.5,385.1 417.8,378.2 418.9,385.1 420.2,388.4 421.4,383.5 422.2,382.6 422.7,390 423.8,392.5 425.5,392.5 428.7,390 432,386.7 433.6,383.8 436.1,385.1 438.6,386.4 441,388.4 443.5,389.2 446.7,390.8 449.2,387.5 450.8,389.2 453.3,390 456.6,393.3 459.8,397.4 464.7,399.5 472.9,400.6 481.9,400.2 486,401 522,401" fill="none" stroke="#e23030" stroke-width="0.72" stroke-linejoin="round"/>
<text x="498.4" y="386.2" font-size="6.3" font-family='"Liberation Serif", serif' fill="#111">RIN=2.6</text>
<defs><linearGradient id="g372_176" x1="0" y1="176" x2="0" y2="221" gradientUnits="userSpaceOnUse"><stop offset="0" stop-color="#fdfdfd"/><stop offset="0.13" stop-color="#f2f2f2"/><stop offset="0.23" stop-color="#e4e4e4"/><stop offset="0.24" stop-color="#555555"/><stop offset="0.26" stop-color="#555555"/><stop offset="0.28" stop-color="#d8d8d8"/><stop offset="0.39" stop-color="#d4d4d4"/><stop offset="0.41" stop-color="#e8e8e8"/><stop offset="0.42" stop-color="#959595"/><stop offset="0.46" stop-color="#959595"/><stop offset="0.48" stop-color="#e8e8e8"/><stop offset="0.62" stop-color="#f0f0f0"/><stop offset="0.76" stop-color="#fafafa"/><stop offset="1" stop-color="#fcfcfc"/></linearGradient></defs>
<rect x="372.4" y="176" width="13.8" height="45" fill="url(#g372_176)" />
<line x1="372.4" y1="220.4" x2="386.2" y2="220.4" stroke="#3aa84a" stroke-width="0.9" />
<defs><linearGradient id="g372_222" x1="0" y1="222.5" x2="0" y2="285" gradientUnits="userSpaceOnUse"><stop offset="0" stop-color="#fdfdfd"/><stop offset="0.25" stop-color="#f4f4f4"/><stop offset="0.34" stop-color="#dcdcdc"/><stop offset="0.42" stop-color="#c4c4c4"/><stop offset="0.43" stop-color="#484848"/><stop offset="0.45" stop-color="#484848"/><stop offset="0.46" stop-color="#b8b8b8"/><stop offset="0.5" stop-color="#c4c4c4"/><stop offset="0.51" stop-color="#7a7a7a"/><stop offset="0.53" stop-color="#7a7a7a"/><stop offset="0.55" stop-color="#c8c8c8"/><stop offset="0.56" stop-color="#8c8c8c"/><stop offset="0.58" stop-color="#8c8c8c"/><stop offset="0.6" stop-color="#dedede"/><stop offset="0.7" stop-color="#f3f3f3"/><stop offset="1" stop-color="#fafafa"/></linearGradient></defs>
<rect x="372.4" y="222.5" width="13.8" height="62.5" fill="url(#g372_222)" />
<line x1="372.4" y1="284.3" x2="386.2" y2="284.3" stroke="#3aa84a" stroke-width="0.9" />
<defs><linearGradient id="g372_300" x1="0" y1="300" x2="0" y2="346.5" gradientUnits="userSpaceOnUse"><stop offset="0" stop-color="#fdfdfd"/><stop offset="0.12" stop-color="#eeeeee"/><stop offset="0.14" stop-color="#b4b4b4"/><stop offset="0.16" stop-color="#9c9c9c"/><stop offset="0.2" stop-color="#a4a4a4"/><stop offset="0.23" stop-color="#c8c8c8"/><stop offset="0.37" stop-color="#c4c4c4"/><stop offset="0.38" stop-color="#444444"/><stop offset="0.4" stop-color="#444444"/><stop offset="0.42" stop-color="#b8b8b8"/><stop offset="0.52" stop-color="#cccccc"/><stop offset="0.65" stop-color="#e0e0e0"/><stop offset="0.82" stop-color="#eeeeee"/><stop offset="1" stop-color="#f8f8f8"/></linearGradient></defs>
<rect x="372.4" y="300" width="13.8" height="46.5" fill="url(#g372_300)" />
<line x1="372.4" y1="345.6" x2="386.2" y2="345.6" stroke="#3aa84a" stroke-width="0.9" />
<defs><linearGradient id="g372_360" x1="0" y1="360" x2="0" y2="415.8" gradientUnits="userSpaceOnUse"><stop offset="0" stop-color="#fefefe"/><stop offset="0.18" stop-color="#f6f6f6"/><stop offset="0.27" stop-color="#dedede"/><stop offset="0.34" stop-color="#b4b4b4"/><stop offset="0.39" stop-color="#8a8a8a"/><stop offset="0.45" stop-color="#505050"/><stop offset="0.47" stop-color="#1e1e1e"/><stop offset="0.5" stop-color="#2a2a2a"/><stop offset="0.52" stop-color="#555555"/><stop offset="0.54" stop-color="#2a2a2a"/><stop offset="0.62" stop-color="#262626"/><stop offset="0.64" stop-color="#5a5a5a"/><stop offset="0.66" stop-color="#1a1a1a"/><stop offset="0.69" stop-color="#1a1a1a"/><stop offset="0.72" stop-color="#4a4a4a"/><stop offset="0.77" stop-color="#8a8a8a"/><stop offset="0.82" stop-color="#b8b8b8"/><stop offset="0.85" stop-color="#dcdcdc"/><stop offset="0.87" stop-color="#9a9a9a"/><stop offset="0.88" stop-color="#9a9a9a"/><stop offset="0.89" stop-color="#e4e4e4"/><stop offset="0.96" stop-color="#f0f0f0"/><stop offset="1" stop-color="#f4f4f4"/></linearGradient></defs>
<rect x="372.4" y="360" width="13.8" height="55.8" fill="url(#g372_360)" />
<line x1="372.4" y1="414.8" x2="386.2" y2="414.8" stroke="#3aa84a" stroke-width="0.9" />
<defs><linearGradient id="g530_176" x1="0" y1="176" x2="0" y2="221" gradientUnits="userSpaceOnUse"><stop offset="0" stop-color="#fcfcfc"/><stop offset="0.13" stop-color="#f0f0f0"/><stop offset="0.17" stop-color="#e0e0e0"/><stop offset="0.18" stop-color="#666666"/><stop offset="0.21" stop-color="#666666"/><stop offset="0.23" stop-color="#d0d0d0"/><stop offset="0.26" stop-color="#bcbcbc"/><stop offset="0.29" stop-color="#d4d4d4"/><stop offset="0.32" stop-color="#c4c4c4"/><stop offset="0.36" stop-color="#dadada"/><stop offset="0.39" stop-color="#6a6a6a"/><stop offset="0.42" stop-color="#6a6a6a"/><stop offset="0.44" stop-color="#e0e0e0"/><stop offset="0.67" stop-color="#eeeeee"/><stop offset="0.87" stop-color="#efefef"/><stop offset="0.88" stop-color="#999999"/><stop offset="0.91" stop-color="#999999"/><stop offset="0.92" stop-color="#f3f3f3"/><stop offset="1" stop-color="#fafafa"/></linearGradient></defs>
<rect x="530.2" y="176" width="13.7" height="45" fill="url(#g530_176)" />
<line x1="530.2" y1="220.2" x2="543.9" y2="220.2" stroke="#3aa84a" stroke-width="0.9" />
<defs><linearGradient id="g530_222" x1="0" y1="222.5" x2="0" y2="285" gradientUnits="userSpaceOnUse"><stop offset="0" stop-color="#fdfdfd"/><stop offset="0.25" stop-color="#f2f2f2"/><stop offset="0.35" stop-color="#e0e0e0"/><stop offset="0.38" stop-color="#a0a0a0"/><stop offset="0.4" stop-color="#a0a0a0"/><stop offset="0.42" stop-color="#bcbcbc"/><stop offset="0.53" stop-color="#b4b4b4"/><stop offset="0.54" stop-color="#4a4a4a"/><stop offset="0.57" stop-color="#4a4a4a"/><stop offset="0.58" stop-color="#a8a8a8"/><stop offset="0.6" stop-color="#9a9a9a"/><stop offset="0.62" stop-color="#b0b0b0"/><stop offset="0.7" stop-color="#c8c8c8"/><stop offset="0.79" stop-color="#d8d8d8"/><stop offset="0.88" stop-color="#e4e4e4"/><stop offset="0.91" stop-color="#9a9a9a"/><stop offset="0.93" stop-color="#9a9a9a"/><stop offset="0.94" stop-color="#e8e8e8"/><stop offset="1" stop-color="#f4f4f4"/></linearGradient></defs>
<rect x="530.2" y="222.5" width="13.7" height="62.5" fill="url(#g530_222)" />
<line x1="530.2" y1="284.1" x2="543.9" y2="284.1" stroke="#3aa84a" stroke-width="0.9" />
<defs><linearGradient id="g530_300" x1="0" y1="300" x2="0" y2="346.5" gradientUnits="userSpaceOnUse"><stop offset="0" stop-color="#fbfbfb"/><stop offset="0.12" stop-color="#eeeeee"/><stop offset="0.15" stop-color="#6a6a6a"/><stop offset="0.19" stop-color="#6a6a6a"/><stop offset="0.21" stop-color="#d4d4d4"/><stop offset="0.35" stop-color="#dadada"/><stop offset="0.37" stop-color="#646464"/><stop offset="0.4" stop-color="#646464"/><stop offset="0.43" stop-color="#e0e0e0"/><stop offset="0.65" stop-color="#ececec"/><stop offset="0.84" stop-color="#f0f0f0"/><stop offset="0.87" stop-color="#dcdcdc"/><stop offset="0.89" stop-color="#f0f0f0"/><stop offset="1" stop-color="#f8f8f8"/></linearGradient></defs>
<rect x="530.2" y="300" width="13.7" height="46.5" fill="url(#g530_300)" />
<line x1="530.2" y1="345.6" x2="543.9" y2="345.6" stroke="#3aa84a" stroke-width="0.9" />
<defs><linearGradient id="g530_360" x1="0" y1="360" x2="0" y2="415.8" gradientUnits="userSpaceOnUse"><stop offset="0" stop-color="#fefefe"/><stop offset="0.29" stop-color="#f4f4f4"/><stop offset="0.39" stop-color="#e0e0e0"/><stop offset="0.49" stop-color="#bdbdbd"/><stop offset="0.57" stop-color="#7a7a7a"/><stop offset="0.62" stop-color="#555555"/><stop offset="0.65" stop-color="#8a8a8a"/><stop offset="0.7" stop-color="#444444"/><stop offset="0.74" stop-color="#333333"/><stop offset="0.78" stop-color="#666666"/><stop offset="0.83" stop-color="#555555"/><stop offset="0.86" stop-color="#c8c8c8"/><stop offset="0.91" stop-color="#d0d0d0"/><stop offset="0.91" stop-color="#262626"/><stop offset="0.93" stop-color="#262626"/><stop offset="0.94" stop-color="#dcdcdc"/><stop offset="1" stop-color="#f6f6f6"/></linearGradient></defs>
<rect x="530.2" y="360" width="13.7" height="55.8" fill="url(#g530_360)" />
<line x1="530.2" y1="415.1" x2="543.9" y2="415.1" stroke="#3aa84a" stroke-width="0.9" />
</svg>
</body></html>
